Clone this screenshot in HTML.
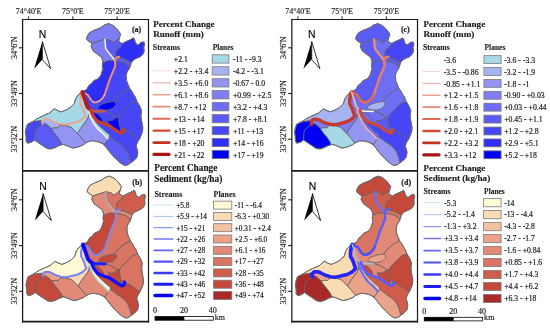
<!DOCTYPE html>
<html><head><meta charset="utf-8"><title>Percent change maps</title><style>
html,body{margin:0;padding:0;background:#fff;}
body{width:550px;height:328px;overflow:hidden;}
svg{display:block;}
text{font-family:"Liberation Serif","Times New Roman",serif;fill:#1a1a1a;}
.ax{font-size:8px;stroke:#1a1a1a;stroke-width:0.15px;}
.nn{font-family:"Liberation Sans",Arial,sans-serif;font-size:10.4px;fill:#000;stroke:#000;stroke-width:0.12px;}
.pl{font-size:8px;font-weight:bold;stroke:#1a1a1a;stroke-width:0.2px;}
.tt{font-size:8.8px;font-weight:bold;stroke:#1a1a1a;stroke-width:0.15px;}
.hd{font-size:6.9px;font-weight:bold;stroke:#1a1a1a;stroke-width:0.1px;}
.lv{font-size:7.3px;stroke:#1a1a1a;stroke-width:0.18px;}
.sb{font-size:7.2px;stroke:#1a1a1a;stroke-width:0.15px;}
</style></head><body>
<svg width="550" height="328" viewBox="0 0 550 328">
<rect width="550" height="328" fill="#fff"/>
<g stroke="#666" stroke-width="0.85" stroke-linejoin="round">
<g transform="translate(0,0)">
<polygon points="108.6,23.6 113.0,25.5 116.9,28.9 120.7,34.0 119.5,37.5 118.6,41.2 120.5,42.5 122.6,43.5 125.5,41.8 129.4,40.1 131.7,38.9 133.4,37.8 134.6,39.5 135.1,41.9 136.9,44.7 138.7,44.7 141.0,42.4 143.8,41.9 144.7,43.7 143.8,47.4 144.2,51.1 143.3,53.8 140.6,56.6 137.8,57.8 134.5,59.3 132.6,61.0 131.2,62.8 130.5,65.4 129.6,68.3 127.8,70.8 126.8,72.8 126.2,75.5 126.5,80.5 128.4,85.5 129.3,87.5 131.7,91.1 133.5,94.5 135.4,97.2 136.6,100.9 138.5,104.0 140.2,107.0 141.5,110.6 140.9,115.5 141.5,120.4 142.2,124.5 142.8,127.0 142.5,131.5 141.0,135.5 139.5,139.0 137.5,142.0 136.0,146.0 137.0,149.0 137.8,152.3 137.0,157.0 135.5,159.0 132.0,162.0 128.5,164.5 126.0,165.4 124.8,165.5 122.0,164.0 119.3,162.0 116.0,158.8 112.4,155.2 109.5,151.7 106.9,148.3 105.0,146.0 102.8,144.2 99.0,142.0 96.0,141.3 93.6,140.9 90.5,141.0 88.5,141.7 85.5,143.0 83.1,144.9 80.0,146.2 77.0,147.3 72.9,148.1 69.5,146.8 66.5,145.5 63.0,144.3 61.8,144.8 59.1,145.5 55.0,147.6 50.8,149.0 46.7,148.3 42.6,145.5 38.5,142.8 34.4,140.0 31.6,142.1 27.6,143.2 26.2,141.3 26.1,136.6 25.4,132.5 26.1,128.4 27.5,124.2 31.6,122.2 35.0,120.2 37.1,118.7 42.6,116.0 44.6,115.1 49.2,113.2 54.3,108.7 57.5,110.5 61.1,111.9 64.8,110.5 68.4,108.7 70.4,107.3 72.5,105.5 74.2,103.5 75.0,101.0 75.5,99.0 78.0,95.2 81.8,92.0 86.6,89.6 89.1,85.2 91.4,83.7 93.7,80.7 97.5,79.1 99.8,76.9 101.2,74.5 101.8,72.0 102.9,69.0 102.3,65.5 102.9,61.4 101.6,57.5 98.5,55.0 96.4,53.5 93.2,51.0 91.1,46.7 92.1,43.5 89.0,41.5 86.4,39.1 87.5,35.5 89.5,32.7 93.5,30.5 97.8,28.9 101.0,27.5 104.2,25.1" fill="#4646f6" stroke="none"/>
<polygon points="86.4,39.1 87.5,35.5 89.5,32.7 93.5,30.5 97.8,28.9 101.0,27.5 104.2,25.1 108.6,23.6 113.0,25.5 116.9,28.9 120.7,34.0 119.5,37.5 118.8,38.2 116.7,40.3 114.5,41.8 112.4,43.0 111.3,40.9 108.0,39.8 104.9,39.3 98.5,41.4 92.1,43.5 89.0,41.5" fill="#7e7ef3"/>
<polygon points="92.1,43.5 98.5,41.4 104.9,39.3 105.3,44.0 105.5,47.8 107.0,50.5 108.0,51.7 110.9,55.3 113.9,59.0 114.6,60.5 112.0,60.8 109.2,60.6 106.0,61.5 103.9,62.7 102.9,61.4 101.6,57.5 98.5,55.0 96.4,53.5 93.2,51.0 91.1,46.7" fill="#7e7ef3"/>
<polygon points="104.9,39.3 108.0,39.8 111.3,40.9 112.4,43.0 114.5,41.8 116.7,40.3 118.8,38.2 119.5,37.5 118.6,41.2 120.5,42.5 122.6,43.5 120.4,47.4 117.0,49.6 115.9,51.9 115.9,55.8 115.3,59.0 114.6,60.5 113.9,59.0 110.9,55.3 108.0,51.7 107.0,50.5 105.5,47.8 105.3,44.0" fill="#5a5af5"/>
<polygon points="122.6,43.5 125.5,41.8 129.4,40.1 131.7,38.9 133.4,37.8 134.6,39.5 135.1,41.9 136.9,44.7 138.7,44.7 141.0,42.4 143.8,41.9 144.7,43.7 143.8,47.4 144.2,51.1 143.3,53.8 140.6,56.6 137.8,57.8 134.5,59.3 132.6,61.0 131.2,62.8 130.5,62.0 124.9,59.2 118.1,57.5 116.8,57.2 115.9,55.8 115.9,51.9 117.0,49.6 120.4,47.4" fill="#2e2ef7"/>
<polygon points="116.8,57.2 118.1,57.5 124.9,59.2 130.5,62.0 131.2,62.8 130.5,65.4 129.4,67.5 127.7,64.9 123.8,62.6 117.0,60.9 115.0,62.6 115.3,59.0" fill="#5a5af5"/>
<polygon points="103.9,62.7 106.0,61.5 109.2,60.6 112.0,60.8 114.6,60.5 115.0,62.6 115.3,66.3 113.9,69.2 112.8,72.0 111.5,75.0 110.1,78.4 108.7,82.5 107.4,86.6 106.0,90.5 104.6,94.8 102.4,98.4 99.8,100.8 96.5,102.3 93.7,102.3 91.5,100.5 90.7,99.3 88.5,96.0 87.6,94.7 84.6,93.2 82.3,92.0 81.8,92.0 86.6,89.6 89.1,85.2 91.4,83.7 93.7,80.7 97.5,79.1 99.8,76.9 101.2,74.5 101.8,72.0 102.9,69.0 102.3,65.5 102.9,61.4" fill="#2e2ef7"/>
<polygon points="115.0,62.6 117.0,60.9 123.8,62.6 127.7,64.9 129.4,67.5 129.6,68.3 127.8,70.8 126.8,72.8 126.2,75.5 126.5,80.5 128.4,85.5 129.3,87.5 129.3,88.7 124.4,91.1 119.5,94.8 115.9,98.4 113.4,102.1 108.0,104.0 105.0,108.0 104.3,111.5 99.4,111.3 94.5,111.3 90.9,110.0 89.0,108.5 87.2,106.4 86.0,103.0 84.8,99.1 83.5,95.5 82.3,92.0 84.6,93.2 87.6,94.7 88.5,96.0 90.7,99.3 91.5,100.5 93.7,102.3 96.5,102.3 99.8,100.8 102.4,98.4 104.6,94.8 106.0,90.5 107.4,86.6 108.7,82.5 110.1,78.4 111.5,75.0 112.8,72.0 113.9,69.2 115.3,66.3" fill="#4646f6"/>
<polygon points="129.3,88.7 131.7,91.1 133.5,94.5 135.4,97.2 136.6,100.9 135.4,102.1 131.7,103.3 129.3,105.7 124.4,110.6 120.7,114.3 118.9,117.3 116.8,117.6 114.7,116.0 109.3,112.8 105.1,111.5 104.3,111.5 105.0,108.0 108.0,104.0 113.4,102.1 115.9,98.4 119.5,94.8 124.4,91.1" fill="#4646f6"/>
<polygon points="135.4,102.1 136.6,100.9 138.5,104.0 140.2,107.0 141.5,110.6 140.9,115.5 141.5,120.4 142.2,124.5 142.8,127.0 142.5,131.5 141.0,135.5 139.5,139.0 138.7,139.3 132.2,134.4 125.7,130.4 123.8,129.6 120.0,127.7 118.9,121.3 118.3,120.4 118.9,117.3 120.7,114.3 124.4,110.6 129.3,105.7 131.7,103.3" fill="#4646f6"/>
<polygon points="90.9,110.0 94.5,111.3 99.4,111.3 104.3,111.5 105.1,111.5 109.3,112.8 114.7,116.0 116.8,117.6 118.9,117.3 118.3,120.4 118.9,121.3 120.0,127.7 123.8,129.6 123.3,132.3 121.5,133.4 117.9,131.5 113.3,128.5 108.7,125.3 102.9,123.5 97.6,121.3 94.6,117.8 93.5,116.5 92.1,113.7" fill="#4646f6"/>
<polygon points="97.6,108.5 99.7,105.3 102.5,104.0 105.1,103.2 109.3,102.1 112.0,101.8 114.7,101.6 115.7,103.0 115.7,105.3 114.0,107.0 112.5,108.5 110.0,109.4 107.2,110.1 104.5,110.0 101.9,109.6 98.7,109.1" fill="#0000f8"/>
<polygon points="91.5,111.0 93.3,112.3 97.6,113.9 100.8,117.1 102.9,120.3 102.0,122.5 97.6,121.3 94.6,117.8 93.5,116.5 92.1,113.7" fill="#0000f8"/>
<polygon points="107.2,120.3 110.0,120.5 112.5,120.3 114.5,119.0 116.8,117.6 118.9,117.3 118.3,120.4 118.9,121.3 120.0,127.7 121.5,133.4 117.9,131.5 113.3,128.5 110.0,126.0 108.0,122.5" fill="#0000f8"/>
<polygon points="94.6,117.8 97.6,121.3 102.9,123.5 108.7,125.3 113.3,128.5 117.9,131.5 121.5,133.4 123.3,132.3 123.8,129.6 125.7,130.4 132.2,134.4 138.7,139.3 139.5,139.0 137.5,142.0 136.0,146.0 137.0,149.0 137.8,152.3 137.0,157.0 135.5,159.0 132.0,162.0 130.6,162.5 129.8,159.0 128.4,155.0 127.0,151.5 124.3,147.9 120.6,144.7 116.9,142.4 113.3,139.6 109.6,136.9 109.5,134.8 105.5,131.5 101.5,128.0 97.5,124.2 94.8,120.5" fill="#4646f6"/>
<polygon points="104.2,144.2 106.0,141.9 107.8,138.7 109.6,136.9 113.3,139.6 116.9,142.4 120.6,144.7 124.3,147.9 127.0,151.5 128.4,155.0 129.8,159.0 130.6,162.5 128.5,164.5 126.0,165.4 124.8,165.5 122.0,164.0 119.3,162.0 116.0,158.8 112.4,155.2 109.5,151.7 106.9,148.3 105.0,146.0" fill="#5a5af5"/>
<polygon points="88.4,109.5 90.9,110.0 92.1,113.7 93.5,116.5 94.6,117.8 94.8,120.5 97.5,124.2 101.5,128.0 105.5,131.5 109.5,134.8 109.6,136.9 107.8,138.7 103.1,133.8 97.8,129.0 93.5,123.1 90.3,116.7 88.7,112.0" fill="#a6d8e6"/>
<polygon points="77.4,133.4 79.7,129.4 83.1,124.7 86.6,120.1 88.4,116.6 88.9,112.0 88.7,112.0 90.3,116.7 93.5,123.1 97.8,129.0 103.1,133.8 107.8,138.7 106.0,141.9 104.2,144.2 102.8,143.5 99.0,142.0 96.0,141.3 93.6,140.9 90.5,141.0 88.5,141.7 85.5,143.0 82.0,138.6" fill="#9494f2"/>
<polygon points="31.6,122.2 35.0,120.2 37.1,118.7 42.6,116.0 44.6,115.1 49.2,113.2 54.3,108.7 57.5,110.5 61.1,111.9 64.8,110.5 68.4,108.7 70.4,107.3 72.5,105.5 74.2,103.5 75.0,101.0 75.5,99.0 78.0,95.2 81.8,92.0 82.3,92.0 81.7,93.0 80.5,99.1 80.5,104.0 82.0,106.5 83.5,110.0 84.8,114.0 85.6,115.9 82.0,119.5 77.1,122.0 69.8,123.8 64.8,124.7 60.2,124.2 55.6,122.8 52.9,121.5 49.2,119.6 46.5,119.2 43.3,119.6 41.9,121.5 41.2,120.8 37.1,121.2" fill="#a6d8e6"/>
<polygon points="60.2,124.2 64.8,124.7 69.8,123.8 77.1,122.0 82.0,119.5 85.6,115.9 84.8,114.0 83.5,110.0 82.0,106.5 80.5,104.0 80.5,99.1 81.7,93.0 82.3,92.0 83.5,95.5 84.8,99.1 86.0,103.0 87.2,106.4 88.4,109.5 88.7,112.0 88.9,112.0 88.4,116.6 86.6,120.1 83.1,124.7 79.7,129.4 77.4,133.4 73.9,129.9 71.6,127.6 66.9,125.9 63.0,125.5 60.0,125.5" fill="#a6d8e6"/>
<polygon points="42.6,124.2 41.9,121.5 44.0,119.4 46.5,119.2 49.2,119.6 52.9,121.5 55.6,122.8 60.2,124.2 60.0,125.5 57.5,128.0 55.0,127.8 51.0,128.5 49.5,127.0 48.0,125.5 44.6,123.3" fill="#a6b4f2"/>
<polygon points="51.0,128.5 55.0,127.8 57.5,128.0 60.0,125.5 63.0,125.5 66.9,125.9 71.6,127.6 73.9,129.9 77.4,133.4 82.0,138.6 85.5,143.0 83.1,144.9 80.0,146.2 77.0,147.3 72.9,148.1 69.5,146.8 66.5,145.5 63.0,144.3 61.8,144.8 60.5,141.4 57.7,137.3 53.6,132.5" fill="#9494f2"/>
<polygon points="42.6,124.2 44.6,123.3 48.0,125.5 49.5,127.0 51.0,128.5 53.6,132.5 57.7,137.3 60.5,141.4 61.8,144.8 59.1,145.5 55.0,147.6 50.8,149.0 46.7,148.3 42.6,145.5 38.5,142.8 34.4,140.0 34.4,135.2 35.0,130.4 38.5,127.0" fill="#5a5af5"/>
<polygon points="27.5,124.2 31.6,122.2 37.1,121.2 41.2,120.8 42.6,124.2 38.5,127.0 35.0,130.4 34.4,135.2 34.4,140.0 31.6,142.1 27.6,143.2 26.2,141.3 26.1,136.6 25.4,132.5 26.1,128.4" fill="#4646f6"/>
<polygon points="108.6,23.6 113.0,25.5 116.9,28.9 120.7,34.0 119.5,37.5 118.6,41.2 120.5,42.5 122.6,43.5 125.5,41.8 129.4,40.1 131.7,38.9 133.4,37.8 134.6,39.5 135.1,41.9 136.9,44.7 138.7,44.7 141.0,42.4 143.8,41.9 144.7,43.7 143.8,47.4 144.2,51.1 143.3,53.8 140.6,56.6 137.8,57.8 134.5,59.3 132.6,61.0 131.2,62.8 130.5,65.4 129.6,68.3 127.8,70.8 126.8,72.8 126.2,75.5 126.5,80.5 128.4,85.5 129.3,87.5 131.7,91.1 133.5,94.5 135.4,97.2 136.6,100.9 138.5,104.0 140.2,107.0 141.5,110.6 140.9,115.5 141.5,120.4 142.2,124.5 142.8,127.0 142.5,131.5 141.0,135.5 139.5,139.0 137.5,142.0 136.0,146.0 137.0,149.0 137.8,152.3 137.0,157.0 135.5,159.0 132.0,162.0 128.5,164.5 126.0,165.4 124.8,165.5 122.0,164.0 119.3,162.0 116.0,158.8 112.4,155.2 109.5,151.7 106.9,148.3 105.0,146.0 102.8,144.2 99.0,142.0 96.0,141.3 93.6,140.9 90.5,141.0 88.5,141.7 85.5,143.0 83.1,144.9 80.0,146.2 77.0,147.3 72.9,148.1 69.5,146.8 66.5,145.5 63.0,144.3 61.8,144.8 59.1,145.5 55.0,147.6 50.8,149.0 46.7,148.3 42.6,145.5 38.5,142.8 34.4,140.0 31.6,142.1 27.6,143.2 26.2,141.3 26.1,136.6 25.4,132.5 26.1,128.4 27.5,124.2 31.6,122.2 35.0,120.2 37.1,118.7 42.6,116.0 44.6,115.1 49.2,113.2 54.3,108.7 57.5,110.5 61.1,111.9 64.8,110.5 68.4,108.7 70.4,107.3 72.5,105.5 74.2,103.5 75.0,101.0 75.5,99.0 78.0,95.2 81.8,92.0 86.6,89.6 89.1,85.2 91.4,83.7 93.7,80.7 97.5,79.1 99.8,76.9 101.2,74.5 101.8,72.0 102.9,69.0 102.3,65.5 102.9,61.4 101.6,57.5 98.5,55.0 96.4,53.5 93.2,51.0 91.1,46.7 92.1,43.5 89.0,41.5 86.4,39.1 87.5,35.5 89.5,32.7 93.5,30.5 97.8,28.9 101.0,27.5 104.2,25.1" fill="none" stroke="#6c6c6c" stroke-width="0.85"/>
<polyline points="104.9,39.3 105.3,44.0 105.5,47.8 107.0,50.5 108.0,51.7 110.9,55.3 113.9,59.0 114.6,60.5" fill="none" stroke="#fff2f2" stroke-width="1.5" stroke-linecap="round" stroke-linejoin="round"/>
<polyline points="119.3,56.8 116.8,57.5 115.3,59.0 115.0,62.6 115.3,66.3 113.9,69.2 112.8,72.0 111.5,75.0 110.1,78.4 108.7,82.5 107.4,86.6 106.0,90.5 104.6,94.8" fill="none" stroke="#f08c6e" stroke-width="2" stroke-linecap="round" stroke-linejoin="round"/>
<polyline points="104.6,94.8 102.4,98.4 99.8,100.8 96.5,102.3 93.7,102.3 91.5,100.5 90.7,99.3 88.5,96.0 87.6,94.7 84.6,93.2 82.3,92.0" fill="none" stroke="#f2a08a" stroke-width="1.7" stroke-linecap="round" stroke-linejoin="round"/>
<polyline points="82.3,92.0 81.7,93.0 80.5,99.1 80.5,104.0 82.0,106.5 83.5,110.0 84.8,114.0 85.6,115.9 82.0,119.5 77.1,122.0 69.8,123.8 64.8,124.7 60.2,124.2 55.6,122.8 52.9,121.5 49.2,119.6 46.5,119.2 44.0,119.4 41.9,121.5 42.6,124.2" fill="none" stroke="#f2a48e" stroke-width="1.7" stroke-linecap="round" stroke-linejoin="round"/>
<polyline points="88.4,109.5 88.7,112.0 90.3,116.7 93.5,123.1 97.8,129.0 103.1,133.8 107.8,138.7" fill="none" stroke="#fff6f6" stroke-width="1.5" stroke-linecap="round" stroke-linejoin="round"/>
<polyline points="82.3,92.0 83.5,95.5 84.8,99.1 86.0,103.0 87.2,106.4 89.0,108.5 90.9,110.0" fill="none" stroke="#b21c1c" stroke-width="3.9" stroke-linecap="round" stroke-linejoin="round"/>
<polyline points="90.9,110.0 94.5,111.3 99.4,111.3 104.3,111.5" fill="none" stroke="#d05a44" stroke-width="2.3" stroke-linecap="round" stroke-linejoin="round"/>
<polyline points="90.9,110.0 92.1,113.7 93.5,116.5 94.6,117.8 97.6,121.3 102.9,123.5 108.7,125.3 113.3,128.5 117.9,131.5 121.5,133.4 123.3,132.3 123.8,129.6" fill="none" stroke="#c93c2a" stroke-width="3.2" stroke-linecap="round" stroke-linejoin="round"/>
</g>
<g transform="translate(0.7,152.5)">
<polygon points="108.6,23.6 113.0,25.5 116.9,28.9 120.7,34.0 119.5,37.5 118.6,41.2 120.5,42.5 122.6,43.5 125.5,41.8 129.4,40.1 131.7,38.9 133.4,37.8 134.6,39.5 135.1,41.9 136.9,44.7 138.7,44.7 141.0,42.4 143.8,41.9 144.7,43.7 143.8,47.4 144.2,51.1 143.3,53.8 140.6,56.6 137.8,57.8 134.5,59.3 132.6,61.0 131.2,62.8 130.5,65.4 129.6,68.3 127.8,70.8 126.8,72.8 126.2,75.5 126.5,80.5 128.4,85.5 129.3,87.5 131.7,91.1 133.5,94.5 135.4,97.2 136.6,100.9 138.5,104.0 140.2,107.0 141.5,110.6 140.9,115.5 141.5,120.4 142.2,124.5 142.8,127.0 142.5,131.5 141.0,135.5 139.5,139.0 137.5,142.0 136.0,146.0 137.0,149.0 137.8,152.3 137.0,157.0 135.5,159.0 132.0,162.0 128.5,164.5 126.0,165.4 124.8,165.5 122.0,164.0 119.3,162.0 116.0,158.8 112.4,155.2 109.5,151.7 106.9,148.3 105.0,146.0 102.8,144.2 99.0,142.0 96.0,141.3 93.6,140.9 90.5,141.0 88.5,141.7 85.5,143.0 83.1,144.9 80.0,146.2 77.0,147.3 72.9,148.1 69.5,146.8 66.5,145.5 63.0,144.3 61.8,144.8 59.1,145.5 55.0,147.6 50.8,149.0 46.7,148.3 42.6,145.5 38.5,142.8 34.4,140.0 31.6,142.1 27.6,143.2 26.2,141.3 26.1,136.6 25.4,132.5 26.1,128.4 27.5,124.2 31.6,122.2 35.0,120.2 37.1,118.7 42.6,116.0 44.6,115.1 49.2,113.2 54.3,108.7 57.5,110.5 61.1,111.9 64.8,110.5 68.4,108.7 70.4,107.3 72.5,105.5 74.2,103.5 75.0,101.0 75.5,99.0 78.0,95.2 81.8,92.0 86.6,89.6 89.1,85.2 91.4,83.7 93.7,80.7 97.5,79.1 99.8,76.9 101.2,74.5 101.8,72.0 102.9,69.0 102.3,65.5 102.9,61.4 101.6,57.5 98.5,55.0 96.4,53.5 93.2,51.0 91.1,46.7 92.1,43.5 89.0,41.5 86.4,39.1 87.5,35.5 89.5,32.7 93.5,30.5 97.8,28.9 101.0,27.5 104.2,25.1" fill="#d97462" stroke="none"/>
<polygon points="86.4,39.1 87.5,35.5 89.5,32.7 93.5,30.5 97.8,28.9 101.0,27.5 104.2,25.1 108.6,23.6 113.0,25.5 116.9,28.9 120.7,34.0 119.5,37.5 118.8,38.2 116.7,40.3 114.5,41.8 112.4,43.0 111.3,40.9 108.0,39.8 104.9,39.3 98.5,41.4 92.1,43.5 89.0,41.5" fill="#f9dbb4"/>
<polygon points="92.1,43.5 98.5,41.4 104.9,39.3 105.3,44.0 105.5,47.8 107.0,50.5 108.0,51.7 110.9,55.3 113.9,59.0 114.6,60.5 112.0,60.8 109.2,60.6 106.0,61.5 103.9,62.7 102.9,61.4 101.6,57.5 98.5,55.0 96.4,53.5 93.2,51.0 91.1,46.7" fill="#e28a77"/>
<polygon points="104.9,39.3 108.0,39.8 111.3,40.9 112.4,43.0 114.5,41.8 116.7,40.3 118.8,38.2 119.5,37.5 118.6,41.2 120.5,42.5 122.6,43.5 120.4,47.4 117.0,49.6 115.9,51.9 115.9,55.8 115.3,59.0 114.6,60.5 113.9,59.0 110.9,55.3 108.0,51.7 107.0,50.5 105.5,47.8 105.3,44.0" fill="#d97462"/>
<polygon points="122.6,43.5 125.5,41.8 129.4,40.1 131.7,38.9 133.4,37.8 134.6,39.5 135.1,41.9 136.9,44.7 138.7,44.7 141.0,42.4 143.8,41.9 144.7,43.7 143.8,47.4 144.2,51.1 143.3,53.8 140.6,56.6 137.8,57.8 134.5,59.3 132.6,61.0 131.2,62.8 130.5,62.0 124.9,59.2 118.1,57.5 116.8,57.2 115.9,55.8 115.9,51.9 117.0,49.6 120.4,47.4" fill="#d05d4c"/>
<polygon points="116.8,57.2 118.1,57.5 124.9,59.2 130.5,62.0 131.2,62.8 130.5,65.4 129.4,67.5 127.7,64.9 123.8,62.6 117.0,60.9 115.0,62.6 115.3,59.0" fill="#e28a77"/>
<polygon points="103.9,62.7 106.0,61.5 109.2,60.6 112.0,60.8 114.6,60.5 115.0,62.6 115.3,66.3 113.9,69.2 112.8,72.0 111.5,75.0 110.1,78.4 108.7,82.5 107.4,86.6 106.0,90.5 104.6,94.8 102.4,98.4 99.8,100.8 96.5,102.3 93.7,102.3 91.5,100.5 90.7,99.3 88.5,96.0 87.6,94.7 84.6,93.2 82.3,92.0 81.8,92.0 86.6,89.6 89.1,85.2 91.4,83.7 93.7,80.7 97.5,79.1 99.8,76.9 101.2,74.5 101.8,72.0 102.9,69.0 102.3,65.5 102.9,61.4" fill="#c4493a"/>
<polygon points="115.0,62.6 117.0,60.9 123.8,62.6 127.7,64.9 129.4,67.5 129.6,68.3 127.8,70.8 126.8,72.8 126.2,75.5 126.5,80.5 128.4,85.5 129.3,87.5 129.3,88.7 124.4,91.1 119.5,94.8 115.9,98.4 113.4,102.1 108.0,104.0 105.0,108.0 104.3,111.5 99.4,111.3 94.5,111.3 90.9,110.0 89.0,108.5 87.2,106.4 86.0,103.0 84.8,99.1 83.5,95.5 82.3,92.0 84.6,93.2 87.6,94.7 88.5,96.0 90.7,99.3 91.5,100.5 93.7,102.3 96.5,102.3 99.8,100.8 102.4,98.4 104.6,94.8 106.0,90.5 107.4,86.6 108.7,82.5 110.1,78.4 111.5,75.0 112.8,72.0 113.9,69.2 115.3,66.3" fill="#d97462"/>
<polygon points="129.3,88.7 131.7,91.1 133.5,94.5 135.4,97.2 136.6,100.9 135.4,102.1 131.7,103.3 129.3,105.7 124.4,110.6 120.7,114.3 118.9,117.3 116.8,117.6 114.7,116.0 109.3,112.8 105.1,111.5 104.3,111.5 105.0,108.0 108.0,104.0 113.4,102.1 115.9,98.4 119.5,94.8 124.4,91.1" fill="#d97462"/>
<polygon points="135.4,102.1 136.6,100.9 138.5,104.0 140.2,107.0 141.5,110.6 140.9,115.5 141.5,120.4 142.2,124.5 142.8,127.0 142.5,131.5 141.0,135.5 139.5,139.0 138.7,139.3 132.2,134.4 125.7,130.4 123.8,129.6 120.0,127.7 118.9,121.3 118.3,120.4 118.9,117.3 120.7,114.3 124.4,110.6 129.3,105.7 131.7,103.3" fill="#d97462"/>
<polygon points="90.9,110.0 94.5,111.3 99.4,111.3 104.3,111.5 105.1,111.5 109.3,112.8 114.7,116.0 116.8,117.6 118.9,117.3 118.3,120.4 118.9,121.3 120.0,127.7 123.8,129.6 123.3,132.3 121.5,133.4 117.9,131.5 113.3,128.5 108.7,125.3 102.9,123.5 97.6,121.3 94.6,117.8 93.5,116.5 92.1,113.7" fill="#d97462"/>
<polygon points="97.6,108.5 99.7,105.3 102.5,104.0 105.1,103.2 109.3,102.1 112.0,101.8 114.7,101.6 115.7,103.0 115.7,105.3 114.0,107.0 112.5,108.5 110.0,109.4 107.2,110.1 104.5,110.0 101.9,109.6 98.7,109.1" fill="#c4493a"/>
<polygon points="91.5,111.0 93.3,112.3 97.6,113.9 100.8,117.1 102.9,120.3 102.0,122.5 97.6,121.3 94.6,117.8 93.5,116.5 92.1,113.7" fill="#c4493a"/>
<polygon points="107.2,120.3 110.0,120.5 112.5,120.3 114.5,119.0 116.8,117.6 118.9,117.3 118.3,120.4 118.9,121.3 120.0,127.7 121.5,133.4 117.9,131.5 113.3,128.5 110.0,126.0 108.0,122.5" fill="#c4493a"/>
<polygon points="94.6,117.8 97.6,121.3 102.9,123.5 108.7,125.3 113.3,128.5 117.9,131.5 121.5,133.4 123.3,132.3 123.8,129.6 125.7,130.4 132.2,134.4 138.7,139.3 139.5,139.0 137.5,142.0 136.0,146.0 137.0,149.0 137.8,152.3 137.0,157.0 135.5,159.0 132.0,162.0 130.6,162.5 129.8,159.0 128.4,155.0 127.0,151.5 124.3,147.9 120.6,144.7 116.9,142.4 113.3,139.6 109.6,136.9 109.5,134.8 105.5,131.5 101.5,128.0 97.5,124.2 94.8,120.5" fill="#c4493a"/>
<polygon points="104.2,144.2 106.0,141.9 107.8,138.7 109.6,136.9 113.3,139.6 116.9,142.4 120.6,144.7 124.3,147.9 127.0,151.5 128.4,155.0 129.8,159.0 130.6,162.5 128.5,164.5 126.0,165.4 124.8,165.5 122.0,164.0 119.3,162.0 116.0,158.8 112.4,155.2 109.5,151.7 106.9,148.3 105.0,146.0" fill="#e28a77"/>
<polygon points="88.4,109.5 90.9,110.0 92.1,113.7 93.5,116.5 94.6,117.8 94.8,120.5 97.5,124.2 101.5,128.0 105.5,131.5 109.5,134.8 109.6,136.9 107.8,138.7 103.1,133.8 97.8,129.0 93.5,123.1 90.3,116.7 88.7,112.0" fill="#fffad6"/>
<polygon points="77.4,133.4 79.7,129.4 83.1,124.7 86.6,120.1 88.4,116.6 88.9,112.0 88.7,112.0 90.3,116.7 93.5,123.1 97.8,129.0 103.1,133.8 107.8,138.7 106.0,141.9 104.2,144.2 102.8,143.5 99.0,142.0 96.0,141.3 93.6,140.9 90.5,141.0 88.5,141.7 85.5,143.0 82.0,138.6" fill="#e28a77"/>
<polygon points="31.6,122.2 35.0,120.2 37.1,118.7 42.6,116.0 44.6,115.1 49.2,113.2 54.3,108.7 57.5,110.5 61.1,111.9 64.8,110.5 68.4,108.7 70.4,107.3 72.5,105.5 74.2,103.5 75.0,101.0 75.5,99.0 78.0,95.2 81.8,92.0 82.3,92.0 81.7,93.0 80.5,99.1 80.5,104.0 82.0,106.5 83.5,110.0 84.8,114.0 85.6,115.9 82.0,119.5 77.1,122.0 69.8,123.8 64.8,124.7 60.2,124.2 55.6,122.8 52.9,121.5 49.2,119.6 46.5,119.2 43.3,119.6 41.9,121.5 41.2,120.8 37.1,121.2" fill="#fffad6"/>
<polygon points="60.2,124.2 64.8,124.7 69.8,123.8 77.1,122.0 82.0,119.5 85.6,115.9 84.8,114.0 83.5,110.0 82.0,106.5 80.5,104.0 80.5,99.1 81.7,93.0 82.3,92.0 83.5,95.5 84.8,99.1 86.0,103.0 87.2,106.4 88.4,109.5 88.7,112.0 88.9,112.0 88.4,116.6 86.6,120.1 83.1,124.7 79.7,129.4 77.4,133.4 73.9,129.9 71.6,127.6 66.9,125.9 63.0,125.5 60.0,125.5" fill="#f9dbb4"/>
<polygon points="42.6,124.2 41.9,121.5 44.0,119.4 46.5,119.2 49.2,119.6 52.9,121.5 55.6,122.8 60.2,124.2 60.0,125.5 57.5,128.0 55.0,127.8 51.0,128.5 49.5,127.0 48.0,125.5 44.6,123.3" fill="#eaa28a"/>
<polygon points="51.0,128.5 55.0,127.8 57.5,128.0 60.0,125.5 63.0,125.5 66.9,125.9 71.6,127.6 73.9,129.9 77.4,133.4 82.0,138.6 85.5,143.0 83.1,144.9 80.0,146.2 77.0,147.3 72.9,148.1 69.5,146.8 66.5,145.5 63.0,144.3 61.8,144.8 60.5,141.4 57.7,137.3 53.6,132.5" fill="#e28a77"/>
<polygon points="42.6,124.2 44.6,123.3 48.0,125.5 49.5,127.0 51.0,128.5 53.6,132.5 57.7,137.3 60.5,141.4 61.8,144.8 59.1,145.5 55.0,147.6 50.8,149.0 46.7,148.3 42.6,145.5 38.5,142.8 34.4,140.0 34.4,135.2 35.0,130.4 38.5,127.0" fill="#c4493a"/>
<polygon points="27.5,124.2 31.6,122.2 37.1,121.2 41.2,120.8 42.6,124.2 38.5,127.0 35.0,130.4 34.4,135.2 34.4,140.0 31.6,142.1 27.6,143.2 26.2,141.3 26.1,136.6 25.4,132.5 26.1,128.4" fill="#c4493a"/>
<polygon points="108.6,23.6 113.0,25.5 116.9,28.9 120.7,34.0 119.5,37.5 118.6,41.2 120.5,42.5 122.6,43.5 125.5,41.8 129.4,40.1 131.7,38.9 133.4,37.8 134.6,39.5 135.1,41.9 136.9,44.7 138.7,44.7 141.0,42.4 143.8,41.9 144.7,43.7 143.8,47.4 144.2,51.1 143.3,53.8 140.6,56.6 137.8,57.8 134.5,59.3 132.6,61.0 131.2,62.8 130.5,65.4 129.6,68.3 127.8,70.8 126.8,72.8 126.2,75.5 126.5,80.5 128.4,85.5 129.3,87.5 131.7,91.1 133.5,94.5 135.4,97.2 136.6,100.9 138.5,104.0 140.2,107.0 141.5,110.6 140.9,115.5 141.5,120.4 142.2,124.5 142.8,127.0 142.5,131.5 141.0,135.5 139.5,139.0 137.5,142.0 136.0,146.0 137.0,149.0 137.8,152.3 137.0,157.0 135.5,159.0 132.0,162.0 128.5,164.5 126.0,165.4 124.8,165.5 122.0,164.0 119.3,162.0 116.0,158.8 112.4,155.2 109.5,151.7 106.9,148.3 105.0,146.0 102.8,144.2 99.0,142.0 96.0,141.3 93.6,140.9 90.5,141.0 88.5,141.7 85.5,143.0 83.1,144.9 80.0,146.2 77.0,147.3 72.9,148.1 69.5,146.8 66.5,145.5 63.0,144.3 61.8,144.8 59.1,145.5 55.0,147.6 50.8,149.0 46.7,148.3 42.6,145.5 38.5,142.8 34.4,140.0 31.6,142.1 27.6,143.2 26.2,141.3 26.1,136.6 25.4,132.5 26.1,128.4 27.5,124.2 31.6,122.2 35.0,120.2 37.1,118.7 42.6,116.0 44.6,115.1 49.2,113.2 54.3,108.7 57.5,110.5 61.1,111.9 64.8,110.5 68.4,108.7 70.4,107.3 72.5,105.5 74.2,103.5 75.0,101.0 75.5,99.0 78.0,95.2 81.8,92.0 86.6,89.6 89.1,85.2 91.4,83.7 93.7,80.7 97.5,79.1 99.8,76.9 101.2,74.5 101.8,72.0 102.9,69.0 102.3,65.5 102.9,61.4 101.6,57.5 98.5,55.0 96.4,53.5 93.2,51.0 91.1,46.7 92.1,43.5 89.0,41.5 86.4,39.1 87.5,35.5 89.5,32.7 93.5,30.5 97.8,28.9 101.0,27.5 104.2,25.1" fill="none" stroke="#6c6c6c" stroke-width="0.85"/>
<polyline points="104.9,39.3 105.3,44.0 105.5,47.8 107.0,50.5 108.0,51.7 110.9,55.3 113.9,59.0 114.6,60.5" fill="none" stroke="#a8c4cc" stroke-width="1.3" stroke-linecap="round" stroke-linejoin="round"/>
<polyline points="119.3,56.8 116.8,57.5 115.3,59.0 115.0,62.6 115.3,66.3 113.9,69.2 112.8,72.0 111.5,75.0 110.1,78.4 108.7,82.5 107.4,86.6 106.0,90.5 104.6,94.8" fill="none" stroke="#8088f2" stroke-width="1.9" stroke-linecap="round" stroke-linejoin="round"/>
<polyline points="104.6,94.8 102.4,98.4 99.8,100.8 96.5,102.3 93.7,102.3 91.5,100.5 90.7,99.3 88.5,96.0 87.6,94.7 84.6,93.2 82.3,92.0" fill="none" stroke="#7a82f4" stroke-width="2" stroke-linecap="round" stroke-linejoin="round"/>
<polyline points="82.3,92.0 81.7,93.0 80.5,99.1 80.5,104.0 82.0,106.5 83.5,110.0 84.8,114.0 85.6,115.9 82.0,119.5 77.1,122.0 69.8,123.8 64.8,124.7 60.2,124.2 55.6,122.8 52.9,121.5 49.2,119.6 46.5,119.2 44.0,119.4 41.9,121.5 42.6,124.2" fill="none" stroke="#7c84f4" stroke-width="2" stroke-linecap="round" stroke-linejoin="round"/>
<polyline points="88.4,109.5 88.7,112.0 90.3,116.7 93.5,123.1 97.8,129.0 103.1,133.8 107.8,138.7" fill="none" stroke="#bcdce8" stroke-width="1.5" stroke-linecap="round" stroke-linejoin="round"/>
<polyline points="82.3,92.0 83.5,95.5 84.8,99.1 86.0,103.0 87.2,106.4 89.0,108.5 90.9,110.0" fill="none" stroke="#0808ff" stroke-width="3.8" stroke-linecap="round" stroke-linejoin="round"/>
<polyline points="90.9,110.0 94.5,111.3 99.4,111.3 104.3,111.5" fill="none" stroke="#2020ff" stroke-width="3" stroke-linecap="round" stroke-linejoin="round"/>
<polyline points="90.9,110.0 92.1,113.7 93.5,116.5 94.6,117.8 97.6,121.3 102.9,123.5 108.7,125.3 113.3,128.5 117.9,131.5 121.5,133.4 123.3,132.3 123.8,129.6" fill="none" stroke="#1010ff" stroke-width="3.4" stroke-linecap="round" stroke-linejoin="round"/>
</g>
<g transform="translate(269.2,0)">
<polygon points="108.6,23.6 113.0,25.5 116.9,28.9 120.7,34.0 119.5,37.5 118.6,41.2 120.5,42.5 122.6,43.5 125.5,41.8 129.4,40.1 131.7,38.9 133.4,37.8 134.6,39.5 135.1,41.9 136.9,44.7 138.7,44.7 141.0,42.4 143.8,41.9 144.7,43.7 143.8,47.4 144.2,51.1 143.3,53.8 140.6,56.6 137.8,57.8 134.5,59.3 132.6,61.0 131.2,62.8 130.5,65.4 129.6,68.3 127.8,70.8 126.8,72.8 126.2,75.5 126.5,80.5 128.4,85.5 129.3,87.5 131.7,91.1 133.5,94.5 135.4,97.2 136.6,100.9 138.5,104.0 140.2,107.0 141.5,110.6 140.9,115.5 141.5,120.4 142.2,124.5 142.8,127.0 142.5,131.5 141.0,135.5 139.5,139.0 137.5,142.0 136.0,146.0 137.0,149.0 137.8,152.3 137.0,157.0 135.5,159.0 132.0,162.0 128.5,164.5 126.0,165.4 124.8,165.5 122.0,164.0 119.3,162.0 116.0,158.8 112.4,155.2 109.5,151.7 106.9,148.3 105.0,146.0 102.8,144.2 99.0,142.0 96.0,141.3 93.6,140.9 90.5,141.0 88.5,141.7 85.5,143.0 83.1,144.9 80.0,146.2 77.0,147.3 72.9,148.1 69.5,146.8 66.5,145.5 63.0,144.3 61.8,144.8 59.1,145.5 55.0,147.6 50.8,149.0 46.7,148.3 42.6,145.5 38.5,142.8 34.4,140.0 31.6,142.1 27.6,143.2 26.2,141.3 26.1,136.6 25.4,132.5 26.1,128.4 27.5,124.2 31.6,122.2 35.0,120.2 37.1,118.7 42.6,116.0 44.6,115.1 49.2,113.2 54.3,108.7 57.5,110.5 61.1,111.9 64.8,110.5 68.4,108.7 70.4,107.3 72.5,105.5 74.2,103.5 75.0,101.0 75.5,99.0 78.0,95.2 81.8,92.0 86.6,89.6 89.1,85.2 91.4,83.7 93.7,80.7 97.5,79.1 99.8,76.9 101.2,74.5 101.8,72.0 102.9,69.0 102.3,65.5 102.9,61.4 101.6,57.5 98.5,55.0 96.4,53.5 93.2,51.0 91.1,46.7 92.1,43.5 89.0,41.5 86.4,39.1 87.5,35.5 89.5,32.7 93.5,30.5 97.8,28.9 101.0,27.5 104.2,25.1" fill="#6e6ef4" stroke="none"/>
<polygon points="86.4,39.1 87.5,35.5 89.5,32.7 93.5,30.5 97.8,28.9 101.0,27.5 104.2,25.1 108.6,23.6 113.0,25.5 116.9,28.9 120.7,34.0 119.5,37.5 118.8,38.2 116.7,40.3 114.5,41.8 112.4,43.0 111.3,40.9 108.0,39.8 104.9,39.3 98.5,41.4 92.1,43.5 89.0,41.5" fill="#5a5af5"/>
<polygon points="92.1,43.5 98.5,41.4 104.9,39.3 105.3,44.0 105.5,47.8 107.0,50.5 108.0,51.7 110.9,55.3 113.9,59.0 114.6,60.5 112.0,60.8 109.2,60.6 106.0,61.5 103.9,62.7 102.9,61.4 101.6,57.5 98.5,55.0 96.4,53.5 93.2,51.0 91.1,46.7" fill="#5a5af5"/>
<polygon points="104.9,39.3 108.0,39.8 111.3,40.9 112.4,43.0 114.5,41.8 116.7,40.3 118.8,38.2 119.5,37.5 118.6,41.2 120.5,42.5 122.6,43.5 120.4,47.4 117.0,49.6 115.9,51.9 115.9,55.8 115.3,59.0 114.6,60.5 113.9,59.0 110.9,55.3 108.0,51.7 107.0,50.5 105.5,47.8 105.3,44.0" fill="#6e6ef4"/>
<polygon points="122.6,43.5 125.5,41.8 129.4,40.1 131.7,38.9 133.4,37.8 134.6,39.5 135.1,41.9 136.9,44.7 138.7,44.7 141.0,42.4 143.8,41.9 144.7,43.7 143.8,47.4 144.2,51.1 143.3,53.8 140.6,56.6 137.8,57.8 134.5,59.3 132.6,61.0 131.2,62.8 130.5,62.0 124.9,59.2 118.1,57.5 116.8,57.2 115.9,55.8 115.9,51.9 117.0,49.6 120.4,47.4" fill="#4646f6"/>
<polygon points="116.8,57.2 118.1,57.5 124.9,59.2 130.5,62.0 131.2,62.8 130.5,65.4 129.4,67.5 127.7,64.9 123.8,62.6 117.0,60.9 115.0,62.6 115.3,59.0" fill="#5a5af5"/>
<polygon points="103.9,62.7 106.0,61.5 109.2,60.6 112.0,60.8 114.6,60.5 115.0,62.6 115.3,66.3 113.9,69.2 112.8,72.0 111.5,75.0 110.1,78.4 108.7,82.5 107.4,86.6 106.0,90.5 104.6,94.8 102.4,98.4 99.8,100.8 96.5,102.3 93.7,102.3 91.5,100.5 90.7,99.3 88.5,96.0 87.6,94.7 84.6,93.2 82.3,92.0 81.8,92.0 86.6,89.6 89.1,85.2 91.4,83.7 93.7,80.7 97.5,79.1 99.8,76.9 101.2,74.5 101.8,72.0 102.9,69.0 102.3,65.5 102.9,61.4" fill="#5a5af5"/>
<polygon points="115.0,62.6 117.0,60.9 123.8,62.6 127.7,64.9 129.4,67.5 129.6,68.3 127.8,70.8 126.8,72.8 126.2,75.5 126.5,80.5 128.4,85.5 129.3,87.5 129.3,88.7 124.4,91.1 119.5,94.8 115.9,98.4 113.4,102.1 108.0,104.0 105.0,108.0 104.3,111.5 99.4,111.3 94.5,111.3 90.9,110.0 89.0,108.5 87.2,106.4 86.0,103.0 84.8,99.1 83.5,95.5 82.3,92.0 84.6,93.2 87.6,94.7 88.5,96.0 90.7,99.3 91.5,100.5 93.7,102.3 96.5,102.3 99.8,100.8 102.4,98.4 104.6,94.8 106.0,90.5 107.4,86.6 108.7,82.5 110.1,78.4 111.5,75.0 112.8,72.0 113.9,69.2 115.3,66.3" fill="#6e6ef4"/>
<polygon points="129.3,88.7 131.7,91.1 133.5,94.5 135.4,97.2 136.6,100.9 135.4,102.1 131.7,103.3 129.3,105.7 124.4,110.6 120.7,114.3 118.9,117.3 116.8,117.6 114.7,116.0 109.3,112.8 105.1,111.5 104.3,111.5 105.0,108.0 108.0,104.0 113.4,102.1 115.9,98.4 119.5,94.8 124.4,91.1" fill="#6e6ef4"/>
<polygon points="135.4,102.1 136.6,100.9 138.5,104.0 140.2,107.0 141.5,110.6 140.9,115.5 141.5,120.4 142.2,124.5 142.8,127.0 142.5,131.5 141.0,135.5 139.5,139.0 138.7,139.3 132.2,134.4 125.7,130.4 123.8,129.6 120.0,127.7 118.9,121.3 118.3,120.4 118.9,117.3 120.7,114.3 124.4,110.6 129.3,105.7 131.7,103.3" fill="#4646f6"/>
<polygon points="90.9,110.0 94.5,111.3 99.4,111.3 104.3,111.5 105.1,111.5 109.3,112.8 114.7,116.0 116.8,117.6 118.9,117.3 118.3,120.4 118.9,121.3 120.0,127.7 123.8,129.6 123.3,132.3 121.5,133.4 117.9,131.5 113.3,128.5 108.7,125.3 102.9,123.5 97.6,121.3 94.6,117.8 93.5,116.5 92.1,113.7" fill="#6e6ef4"/>
<polygon points="97.6,108.5 99.7,105.3 102.5,104.0 105.1,103.2 109.3,102.1 112.0,101.8 114.7,101.6 115.7,103.0 115.7,105.3 114.0,107.0 112.5,108.5 110.0,109.4 107.2,110.1 104.5,110.0 101.9,109.6 98.7,109.1" fill="#a6b4f2"/>
<polygon points="91.5,111.0 93.3,112.3 97.6,113.9 100.8,117.1 102.9,120.3 102.0,122.5 97.6,121.3 94.6,117.8 93.5,116.5 92.1,113.7" fill="#6e6ef4"/>
<polygon points="107.2,120.3 110.0,120.5 112.5,120.3 114.5,119.0 116.8,117.6 118.9,117.3 118.3,120.4 118.9,121.3 120.0,127.7 121.5,133.4 117.9,131.5 113.3,128.5 110.0,126.0 108.0,122.5" fill="#5a5af5"/>
<polygon points="94.6,117.8 97.6,121.3 102.9,123.5 108.7,125.3 113.3,128.5 117.9,131.5 121.5,133.4 123.3,132.3 123.8,129.6 125.7,130.4 132.2,134.4 138.7,139.3 139.5,139.0 137.5,142.0 136.0,146.0 137.0,149.0 137.8,152.3 137.0,157.0 135.5,159.0 132.0,162.0 130.6,162.5 129.8,159.0 128.4,155.0 127.0,151.5 124.3,147.9 120.6,144.7 116.9,142.4 113.3,139.6 109.6,136.9 109.5,134.8 105.5,131.5 101.5,128.0 97.5,124.2 94.8,120.5" fill="#4646f6"/>
<polygon points="104.2,144.2 106.0,141.9 107.8,138.7 109.6,136.9 113.3,139.6 116.9,142.4 120.6,144.7 124.3,147.9 127.0,151.5 128.4,155.0 129.8,159.0 130.6,162.5 128.5,164.5 126.0,165.4 124.8,165.5 122.0,164.0 119.3,162.0 116.0,158.8 112.4,155.2 109.5,151.7 106.9,148.3 105.0,146.0" fill="#9494f2"/>
<polygon points="88.4,109.5 90.9,110.0 92.1,113.7 93.5,116.5 94.6,117.8 94.8,120.5 97.5,124.2 101.5,128.0 105.5,131.5 109.5,134.8 109.6,136.9 107.8,138.7 103.1,133.8 97.8,129.0 93.5,123.1 90.3,116.7 88.7,112.0" fill="#6e6ef4"/>
<polygon points="77.4,133.4 79.7,129.4 83.1,124.7 86.6,120.1 88.4,116.6 88.9,112.0 88.7,112.0 90.3,116.7 93.5,123.1 97.8,129.0 103.1,133.8 107.8,138.7 106.0,141.9 104.2,144.2 102.8,143.5 99.0,142.0 96.0,141.3 93.6,140.9 90.5,141.0 88.5,141.7 85.5,143.0 82.0,138.6" fill="#9494f2"/>
<polygon points="31.6,122.2 35.0,120.2 37.1,118.7 42.6,116.0 44.6,115.1 49.2,113.2 54.3,108.7 57.5,110.5 61.1,111.9 64.8,110.5 68.4,108.7 70.4,107.3 72.5,105.5 74.2,103.5 75.0,101.0 75.5,99.0 78.0,95.2 81.8,92.0 82.3,92.0 81.7,93.0 80.5,99.1 80.5,104.0 82.0,106.5 83.5,110.0 84.8,114.0 85.6,115.9 82.0,119.5 77.1,122.0 69.8,123.8 64.8,124.7 60.2,124.2 55.6,122.8 52.9,121.5 49.2,119.6 46.5,119.2 43.3,119.6 41.9,121.5 41.2,120.8 37.1,121.2" fill="#a6b4f2"/>
<polygon points="60.2,124.2 64.8,124.7 69.8,123.8 77.1,122.0 82.0,119.5 85.6,115.9 84.8,114.0 83.5,110.0 82.0,106.5 80.5,104.0 80.5,99.1 81.7,93.0 82.3,92.0 83.5,95.5 84.8,99.1 86.0,103.0 87.2,106.4 88.4,109.5 88.7,112.0 88.9,112.0 88.4,116.6 86.6,120.1 83.1,124.7 79.7,129.4 77.4,133.4 73.9,129.9 71.6,127.6 66.9,125.9 63.0,125.5 60.0,125.5" fill="#7e7ef3"/>
<polygon points="42.6,124.2 41.9,121.5 44.0,119.4 46.5,119.2 49.2,119.6 52.9,121.5 55.6,122.8 60.2,124.2 60.0,125.5 57.5,128.0 55.0,127.8 51.0,128.5 49.5,127.0 48.0,125.5 44.6,123.3" fill="#7e7ef3"/>
<polygon points="51.0,128.5 55.0,127.8 57.5,128.0 60.0,125.5 63.0,125.5 66.9,125.9 71.6,127.6 73.9,129.9 77.4,133.4 82.0,138.6 85.5,143.0 83.1,144.9 80.0,146.2 77.0,147.3 72.9,148.1 69.5,146.8 66.5,145.5 63.0,144.3 61.8,144.8 60.5,141.4 57.7,137.3 53.6,132.5" fill="#a6d8e6"/>
<polygon points="42.6,124.2 44.6,123.3 48.0,125.5 49.5,127.0 51.0,128.5 53.6,132.5 57.7,137.3 60.5,141.4 61.8,144.8 59.1,145.5 55.0,147.6 50.8,149.0 46.7,148.3 42.6,145.5 38.5,142.8 34.4,140.0 34.4,135.2 35.0,130.4 38.5,127.0" fill="#0000f8"/>
<polygon points="27.5,124.2 31.6,122.2 37.1,121.2 41.2,120.8 42.6,124.2 38.5,127.0 35.0,130.4 34.4,135.2 34.4,140.0 31.6,142.1 27.6,143.2 26.2,141.3 26.1,136.6 25.4,132.5 26.1,128.4" fill="#0000f8"/>
<polygon points="108.6,23.6 113.0,25.5 116.9,28.9 120.7,34.0 119.5,37.5 118.6,41.2 120.5,42.5 122.6,43.5 125.5,41.8 129.4,40.1 131.7,38.9 133.4,37.8 134.6,39.5 135.1,41.9 136.9,44.7 138.7,44.7 141.0,42.4 143.8,41.9 144.7,43.7 143.8,47.4 144.2,51.1 143.3,53.8 140.6,56.6 137.8,57.8 134.5,59.3 132.6,61.0 131.2,62.8 130.5,65.4 129.6,68.3 127.8,70.8 126.8,72.8 126.2,75.5 126.5,80.5 128.4,85.5 129.3,87.5 131.7,91.1 133.5,94.5 135.4,97.2 136.6,100.9 138.5,104.0 140.2,107.0 141.5,110.6 140.9,115.5 141.5,120.4 142.2,124.5 142.8,127.0 142.5,131.5 141.0,135.5 139.5,139.0 137.5,142.0 136.0,146.0 137.0,149.0 137.8,152.3 137.0,157.0 135.5,159.0 132.0,162.0 128.5,164.5 126.0,165.4 124.8,165.5 122.0,164.0 119.3,162.0 116.0,158.8 112.4,155.2 109.5,151.7 106.9,148.3 105.0,146.0 102.8,144.2 99.0,142.0 96.0,141.3 93.6,140.9 90.5,141.0 88.5,141.7 85.5,143.0 83.1,144.9 80.0,146.2 77.0,147.3 72.9,148.1 69.5,146.8 66.5,145.5 63.0,144.3 61.8,144.8 59.1,145.5 55.0,147.6 50.8,149.0 46.7,148.3 42.6,145.5 38.5,142.8 34.4,140.0 31.6,142.1 27.6,143.2 26.2,141.3 26.1,136.6 25.4,132.5 26.1,128.4 27.5,124.2 31.6,122.2 35.0,120.2 37.1,118.7 42.6,116.0 44.6,115.1 49.2,113.2 54.3,108.7 57.5,110.5 61.1,111.9 64.8,110.5 68.4,108.7 70.4,107.3 72.5,105.5 74.2,103.5 75.0,101.0 75.5,99.0 78.0,95.2 81.8,92.0 86.6,89.6 89.1,85.2 91.4,83.7 93.7,80.7 97.5,79.1 99.8,76.9 101.2,74.5 101.8,72.0 102.9,69.0 102.3,65.5 102.9,61.4 101.6,57.5 98.5,55.0 96.4,53.5 93.2,51.0 91.1,46.7 92.1,43.5 89.0,41.5 86.4,39.1 87.5,35.5 89.5,32.7 93.5,30.5 97.8,28.9 101.0,27.5 104.2,25.1" fill="none" stroke="#6c6c6c" stroke-width="0.85"/>
<polyline points="104.9,39.3 105.3,44.0 105.5,47.8 107.0,50.5 108.0,51.7 110.9,55.3 113.9,59.0 114.6,60.5" fill="none" stroke="#e8907a" stroke-width="2.3" stroke-linecap="round" stroke-linejoin="round"/>
<polyline points="119.3,56.8 116.8,57.5 115.3,59.0 115.0,62.6 115.3,66.3 113.9,69.2 112.8,72.0 111.5,75.0 110.1,78.4 108.7,82.5 107.4,86.6 106.0,90.5 104.6,94.8" fill="none" stroke="#e4806a" stroke-width="2.5" stroke-linecap="round" stroke-linejoin="round"/>
<polyline points="104.6,94.8 102.4,98.4 99.8,100.8 96.5,102.3 93.7,102.3 91.5,100.5 90.7,99.3 88.5,96.0 87.6,94.7 84.6,93.2 82.3,92.0" fill="none" stroke="#e46a4c" stroke-width="2.5" stroke-linecap="round" stroke-linejoin="round"/>
<polyline points="82.3,92.0 81.7,93.0 80.5,99.1 80.5,104.0 82.0,106.5 83.5,110.0 84.8,114.0 85.6,115.9 82.0,119.5 77.1,122.0 69.8,123.8 64.8,124.7 60.2,124.2 55.6,122.8 52.9,121.5 49.2,119.6 46.5,119.2 44.0,119.4 41.9,121.5 42.6,124.2" fill="none" stroke="#c13a2a" stroke-width="3.4" stroke-linecap="round" stroke-linejoin="round"/>
<polyline points="88.4,109.5 88.7,112.0 90.3,116.7 93.5,123.1 97.8,129.0 103.1,133.8 107.8,138.7" fill="none" stroke="#f4b4a4" stroke-width="1.5" stroke-linecap="round" stroke-linejoin="round"/>
<polyline points="82.3,92.0 83.5,95.5 84.8,99.1 86.0,103.0 87.2,106.4 89.0,108.5 90.9,110.0" fill="none" stroke="#f8c6b8" stroke-width="1.5" stroke-linecap="round" stroke-linejoin="round"/>
<polyline points="90.9,110.0 94.5,111.3 99.4,111.3 104.3,111.5" fill="none" stroke="#fff4f4" stroke-width="1.5" stroke-linecap="round" stroke-linejoin="round"/>
<polyline points="90.9,110.0 92.1,113.7 93.5,116.5 94.6,117.8 97.6,121.3 102.9,123.5 108.7,125.3 113.3,128.5 117.9,131.5 121.5,133.4 123.3,132.3 123.8,129.6" fill="none" stroke="#cf4834" stroke-width="3" stroke-linecap="round" stroke-linejoin="round"/>
</g>
<g transform="translate(270,152.5)">
<polygon points="108.6,23.6 113.0,25.5 116.9,28.9 120.7,34.0 119.5,37.5 118.6,41.2 120.5,42.5 122.6,43.5 125.5,41.8 129.4,40.1 131.7,38.9 133.4,37.8 134.6,39.5 135.1,41.9 136.9,44.7 138.7,44.7 141.0,42.4 143.8,41.9 144.7,43.7 143.8,47.4 144.2,51.1 143.3,53.8 140.6,56.6 137.8,57.8 134.5,59.3 132.6,61.0 131.2,62.8 130.5,65.4 129.6,68.3 127.8,70.8 126.8,72.8 126.2,75.5 126.5,80.5 128.4,85.5 129.3,87.5 131.7,91.1 133.5,94.5 135.4,97.2 136.6,100.9 138.5,104.0 140.2,107.0 141.5,110.6 140.9,115.5 141.5,120.4 142.2,124.5 142.8,127.0 142.5,131.5 141.0,135.5 139.5,139.0 137.5,142.0 136.0,146.0 137.0,149.0 137.8,152.3 137.0,157.0 135.5,159.0 132.0,162.0 128.5,164.5 126.0,165.4 124.8,165.5 122.0,164.0 119.3,162.0 116.0,158.8 112.4,155.2 109.5,151.7 106.9,148.3 105.0,146.0 102.8,144.2 99.0,142.0 96.0,141.3 93.6,140.9 90.5,141.0 88.5,141.7 85.5,143.0 83.1,144.9 80.0,146.2 77.0,147.3 72.9,148.1 69.5,146.8 66.5,145.5 63.0,144.3 61.8,144.8 59.1,145.5 55.0,147.6 50.8,149.0 46.7,148.3 42.6,145.5 38.5,142.8 34.4,140.0 31.6,142.1 27.6,143.2 26.2,141.3 26.1,136.6 25.4,132.5 26.1,128.4 27.5,124.2 31.6,122.2 35.0,120.2 37.1,118.7 42.6,116.0 44.6,115.1 49.2,113.2 54.3,108.7 57.5,110.5 61.1,111.9 64.8,110.5 68.4,108.7 70.4,107.3 72.5,105.5 74.2,103.5 75.0,101.0 75.5,99.0 78.0,95.2 81.8,92.0 86.6,89.6 89.1,85.2 91.4,83.7 93.7,80.7 97.5,79.1 99.8,76.9 101.2,74.5 101.8,72.0 102.9,69.0 102.3,65.5 102.9,61.4 101.6,57.5 98.5,55.0 96.4,53.5 93.2,51.0 91.1,46.7 92.1,43.5 89.0,41.5 86.4,39.1 87.5,35.5 89.5,32.7 93.5,30.5 97.8,28.9 101.0,27.5 104.2,25.1" fill="#e28a77" stroke="none"/>
<polygon points="86.4,39.1 87.5,35.5 89.5,32.7 93.5,30.5 97.8,28.9 101.0,27.5 104.2,25.1 108.6,23.6 113.0,25.5 116.9,28.9 120.7,34.0 119.5,37.5 118.8,38.2 116.7,40.3 114.5,41.8 112.4,43.0 111.3,40.9 108.0,39.8 104.9,39.3 98.5,41.4 92.1,43.5 89.0,41.5" fill="#c4493a"/>
<polygon points="92.1,43.5 98.5,41.4 104.9,39.3 105.3,44.0 105.5,47.8 107.0,50.5 108.0,51.7 110.9,55.3 113.9,59.0 114.6,60.5 112.0,60.8 109.2,60.6 106.0,61.5 103.9,62.7 102.9,61.4 101.6,57.5 98.5,55.0 96.4,53.5 93.2,51.0 91.1,46.7" fill="#d05d4c"/>
<polygon points="104.9,39.3 108.0,39.8 111.3,40.9 112.4,43.0 114.5,41.8 116.7,40.3 118.8,38.2 119.5,37.5 118.6,41.2 120.5,42.5 122.6,43.5 120.4,47.4 117.0,49.6 115.9,51.9 115.9,55.8 115.3,59.0 114.6,60.5 113.9,59.0 110.9,55.3 108.0,51.7 107.0,50.5 105.5,47.8 105.3,44.0" fill="#d05d4c"/>
<polygon points="122.6,43.5 125.5,41.8 129.4,40.1 131.7,38.9 133.4,37.8 134.6,39.5 135.1,41.9 136.9,44.7 138.7,44.7 141.0,42.4 143.8,41.9 144.7,43.7 143.8,47.4 144.2,51.1 143.3,53.8 140.6,56.6 137.8,57.8 134.5,59.3 132.6,61.0 131.2,62.8 130.5,62.0 124.9,59.2 118.1,57.5 116.8,57.2 115.9,55.8 115.9,51.9 117.0,49.6 120.4,47.4" fill="#c4493a"/>
<polygon points="116.8,57.2 118.1,57.5 124.9,59.2 130.5,62.0 131.2,62.8 130.5,65.4 129.4,67.5 127.7,64.9 123.8,62.6 117.0,60.9 115.0,62.6 115.3,59.0" fill="#d97462"/>
<polygon points="103.9,62.7 106.0,61.5 109.2,60.6 112.0,60.8 114.6,60.5 115.0,62.6 115.3,66.3 113.9,69.2 112.8,72.0 111.5,75.0 110.1,78.4 108.7,82.5 107.4,86.6 106.0,90.5 104.6,94.8 102.4,98.4 99.8,100.8 96.5,102.3 93.7,102.3 91.5,100.5 90.7,99.3 88.5,96.0 87.6,94.7 84.6,93.2 82.3,92.0 81.8,92.0 86.6,89.6 89.1,85.2 91.4,83.7 93.7,80.7 97.5,79.1 99.8,76.9 101.2,74.5 101.8,72.0 102.9,69.0 102.3,65.5 102.9,61.4" fill="#d97462"/>
<polygon points="115.0,62.6 117.0,60.9 123.8,62.6 127.7,64.9 129.4,67.5 129.6,68.3 127.8,70.8 126.8,72.8 126.2,75.5 126.5,80.5 128.4,85.5 129.3,87.5 129.3,88.7 124.4,91.1 119.5,94.8 115.9,98.4 113.4,102.1 108.0,104.0 105.0,108.0 104.3,111.5 99.4,111.3 94.5,111.3 90.9,110.0 89.0,108.5 87.2,106.4 86.0,103.0 84.8,99.1 83.5,95.5 82.3,92.0 84.6,93.2 87.6,94.7 88.5,96.0 90.7,99.3 91.5,100.5 93.7,102.3 96.5,102.3 99.8,100.8 102.4,98.4 104.6,94.8 106.0,90.5 107.4,86.6 108.7,82.5 110.1,78.4 111.5,75.0 112.8,72.0 113.9,69.2 115.3,66.3" fill="#e28a77"/>
<polygon points="129.3,88.7 131.7,91.1 133.5,94.5 135.4,97.2 136.6,100.9 135.4,102.1 131.7,103.3 129.3,105.7 124.4,110.6 120.7,114.3 118.9,117.3 116.8,117.6 114.7,116.0 109.3,112.8 105.1,111.5 104.3,111.5 105.0,108.0 108.0,104.0 113.4,102.1 115.9,98.4 119.5,94.8 124.4,91.1" fill="#e28a77"/>
<polygon points="135.4,102.1 136.6,100.9 138.5,104.0 140.2,107.0 141.5,110.6 140.9,115.5 141.5,120.4 142.2,124.5 142.8,127.0 142.5,131.5 141.0,135.5 139.5,139.0 138.7,139.3 132.2,134.4 125.7,130.4 123.8,129.6 120.0,127.7 118.9,121.3 118.3,120.4 118.9,117.3 120.7,114.3 124.4,110.6 129.3,105.7 131.7,103.3" fill="#c4493a"/>
<polygon points="90.9,110.0 94.5,111.3 99.4,111.3 104.3,111.5 105.1,111.5 109.3,112.8 114.7,116.0 116.8,117.6 118.9,117.3 118.3,120.4 118.9,121.3 120.0,127.7 123.8,129.6 123.3,132.3 121.5,133.4 117.9,131.5 113.3,128.5 108.7,125.3 102.9,123.5 97.6,121.3 94.6,117.8 93.5,116.5 92.1,113.7" fill="#e28a77"/>
<polygon points="97.6,108.5 99.7,105.3 102.5,104.0 105.1,103.2 109.3,102.1 112.0,101.8 114.7,101.6 115.7,103.0 115.7,105.3 114.0,107.0 112.5,108.5 110.0,109.4 107.2,110.1 104.5,110.0 101.9,109.6 98.7,109.1" fill="#eaa28a"/>
<polygon points="91.5,111.0 93.3,112.3 97.6,113.9 100.8,117.1 102.9,120.3 102.0,122.5 97.6,121.3 94.6,117.8 93.5,116.5 92.1,113.7" fill="#c4493a"/>
<polygon points="107.2,120.3 110.0,120.5 112.5,120.3 114.5,119.0 116.8,117.6 118.9,117.3 118.3,120.4 118.9,121.3 120.0,127.7 121.5,133.4 117.9,131.5 113.3,128.5 110.0,126.0 108.0,122.5" fill="#c4493a"/>
<polygon points="94.6,117.8 97.6,121.3 102.9,123.5 108.7,125.3 113.3,128.5 117.9,131.5 121.5,133.4 123.3,132.3 123.8,129.6 125.7,130.4 132.2,134.4 138.7,139.3 139.5,139.0 137.5,142.0 136.0,146.0 137.0,149.0 137.8,152.3 137.0,157.0 135.5,159.0 132.0,162.0 130.6,162.5 129.8,159.0 128.4,155.0 127.0,151.5 124.3,147.9 120.6,144.7 116.9,142.4 113.3,139.6 109.6,136.9 109.5,134.8 105.5,131.5 101.5,128.0 97.5,124.2 94.8,120.5" fill="#d05d4c"/>
<polygon points="104.2,144.2 106.0,141.9 107.8,138.7 109.6,136.9 113.3,139.6 116.9,142.4 120.6,144.7 124.3,147.9 127.0,151.5 128.4,155.0 129.8,159.0 130.6,162.5 128.5,164.5 126.0,165.4 124.8,165.5 122.0,164.0 119.3,162.0 116.0,158.8 112.4,155.2 109.5,151.7 106.9,148.3 105.0,146.0" fill="#eaa28a"/>
<polygon points="88.4,109.5 90.9,110.0 92.1,113.7 93.5,116.5 94.6,117.8 94.8,120.5 97.5,124.2 101.5,128.0 105.5,131.5 109.5,134.8 109.6,136.9 107.8,138.7 103.1,133.8 97.8,129.0 93.5,123.1 90.3,116.7 88.7,112.0" fill="#f3c1a2"/>
<polygon points="77.4,133.4 79.7,129.4 83.1,124.7 86.6,120.1 88.4,116.6 88.9,112.0 88.7,112.0 90.3,116.7 93.5,123.1 97.8,129.0 103.1,133.8 107.8,138.7 106.0,141.9 104.2,144.2 102.8,143.5 99.0,142.0 96.0,141.3 93.6,140.9 90.5,141.0 88.5,141.7 85.5,143.0 82.0,138.6" fill="#eaa28a"/>
<polygon points="31.6,122.2 35.0,120.2 37.1,118.7 42.6,116.0 44.6,115.1 49.2,113.2 54.3,108.7 57.5,110.5 61.1,111.9 64.8,110.5 68.4,108.7 70.4,107.3 72.5,105.5 74.2,103.5 75.0,101.0 75.5,99.0 78.0,95.2 81.8,92.0 82.3,92.0 81.7,93.0 80.5,99.1 80.5,104.0 82.0,106.5 83.5,110.0 84.8,114.0 85.6,115.9 82.0,119.5 77.1,122.0 69.8,123.8 64.8,124.7 60.2,124.2 55.6,122.8 52.9,121.5 49.2,119.6 46.5,119.2 43.3,119.6 41.9,121.5 41.2,120.8 37.1,121.2" fill="#f9dbb4"/>
<polygon points="60.2,124.2 64.8,124.7 69.8,123.8 77.1,122.0 82.0,119.5 85.6,115.9 84.8,114.0 83.5,110.0 82.0,106.5 80.5,104.0 80.5,99.1 81.7,93.0 82.3,92.0 83.5,95.5 84.8,99.1 86.0,103.0 87.2,106.4 88.4,109.5 88.7,112.0 88.9,112.0 88.4,116.6 86.6,120.1 83.1,124.7 79.7,129.4 77.4,133.4 73.9,129.9 71.6,127.6 66.9,125.9 63.0,125.5 60.0,125.5" fill="#eaa28a"/>
<polygon points="42.6,124.2 41.9,121.5 44.0,119.4 46.5,119.2 49.2,119.6 52.9,121.5 55.6,122.8 60.2,124.2 60.0,125.5 57.5,128.0 55.0,127.8 51.0,128.5 49.5,127.0 48.0,125.5 44.6,123.3" fill="#eaa28a"/>
<polygon points="51.0,128.5 55.0,127.8 57.5,128.0 60.0,125.5 63.0,125.5 66.9,125.9 71.6,127.6 73.9,129.9 77.4,133.4 82.0,138.6 85.5,143.0 83.1,144.9 80.0,146.2 77.0,147.3 72.9,148.1 69.5,146.8 66.5,145.5 63.0,144.3 61.8,144.8 60.5,141.4 57.7,137.3 53.6,132.5" fill="#f9dbb4"/>
<polygon points="42.6,124.2 44.6,123.3 48.0,125.5 49.5,127.0 51.0,128.5 53.6,132.5 57.7,137.3 60.5,141.4 61.8,144.8 59.1,145.5 55.0,147.6 50.8,149.0 46.7,148.3 42.6,145.5 38.5,142.8 34.4,140.0 34.4,135.2 35.0,130.4 38.5,127.0" fill="#a92828"/>
<polygon points="27.5,124.2 31.6,122.2 37.1,121.2 41.2,120.8 42.6,124.2 38.5,127.0 35.0,130.4 34.4,135.2 34.4,140.0 31.6,142.1 27.6,143.2 26.2,141.3 26.1,136.6 25.4,132.5 26.1,128.4" fill="#a92828"/>
<polygon points="108.6,23.6 113.0,25.5 116.9,28.9 120.7,34.0 119.5,37.5 118.6,41.2 120.5,42.5 122.6,43.5 125.5,41.8 129.4,40.1 131.7,38.9 133.4,37.8 134.6,39.5 135.1,41.9 136.9,44.7 138.7,44.7 141.0,42.4 143.8,41.9 144.7,43.7 143.8,47.4 144.2,51.1 143.3,53.8 140.6,56.6 137.8,57.8 134.5,59.3 132.6,61.0 131.2,62.8 130.5,65.4 129.6,68.3 127.8,70.8 126.8,72.8 126.2,75.5 126.5,80.5 128.4,85.5 129.3,87.5 131.7,91.1 133.5,94.5 135.4,97.2 136.6,100.9 138.5,104.0 140.2,107.0 141.5,110.6 140.9,115.5 141.5,120.4 142.2,124.5 142.8,127.0 142.5,131.5 141.0,135.5 139.5,139.0 137.5,142.0 136.0,146.0 137.0,149.0 137.8,152.3 137.0,157.0 135.5,159.0 132.0,162.0 128.5,164.5 126.0,165.4 124.8,165.5 122.0,164.0 119.3,162.0 116.0,158.8 112.4,155.2 109.5,151.7 106.9,148.3 105.0,146.0 102.8,144.2 99.0,142.0 96.0,141.3 93.6,140.9 90.5,141.0 88.5,141.7 85.5,143.0 83.1,144.9 80.0,146.2 77.0,147.3 72.9,148.1 69.5,146.8 66.5,145.5 63.0,144.3 61.8,144.8 59.1,145.5 55.0,147.6 50.8,149.0 46.7,148.3 42.6,145.5 38.5,142.8 34.4,140.0 31.6,142.1 27.6,143.2 26.2,141.3 26.1,136.6 25.4,132.5 26.1,128.4 27.5,124.2 31.6,122.2 35.0,120.2 37.1,118.7 42.6,116.0 44.6,115.1 49.2,113.2 54.3,108.7 57.5,110.5 61.1,111.9 64.8,110.5 68.4,108.7 70.4,107.3 72.5,105.5 74.2,103.5 75.0,101.0 75.5,99.0 78.0,95.2 81.8,92.0 86.6,89.6 89.1,85.2 91.4,83.7 93.7,80.7 97.5,79.1 99.8,76.9 101.2,74.5 101.8,72.0 102.9,69.0 102.3,65.5 102.9,61.4 101.6,57.5 98.5,55.0 96.4,53.5 93.2,51.0 91.1,46.7 92.1,43.5 89.0,41.5 86.4,39.1 87.5,35.5 89.5,32.7 93.5,30.5 97.8,28.9 101.0,27.5 104.2,25.1" fill="none" stroke="#6c6c6c" stroke-width="0.85"/>
<polyline points="104.9,39.3 105.3,44.0 105.5,47.8 107.0,50.5 108.0,51.7 110.9,55.3 113.9,59.0 114.6,60.5" fill="none" stroke="#6a70f4" stroke-width="2.2" stroke-linecap="round" stroke-linejoin="round"/>
<polyline points="119.3,56.8 116.8,57.5 115.3,59.0 115.0,62.6 115.3,66.3 113.9,69.2 112.8,72.0 111.5,75.0 110.1,78.4 108.7,82.5 107.4,86.6 106.0,90.5 104.6,94.8" fill="none" stroke="#5a60f6" stroke-width="2.4" stroke-linecap="round" stroke-linejoin="round"/>
<polyline points="104.6,94.8 102.4,98.4 99.8,100.8 96.5,102.3 93.7,102.3 91.5,100.5 90.7,99.3 88.5,96.0 87.6,94.7 84.6,93.2 82.3,92.0" fill="none" stroke="#5050fa" stroke-width="2.6" stroke-linecap="round" stroke-linejoin="round"/>
<polyline points="82.3,92.0 81.7,93.0 80.5,99.1 80.5,104.0 82.0,106.5 83.5,110.0 84.8,114.0 85.6,115.9 82.0,119.5 77.1,122.0 69.8,123.8 64.8,124.7 60.2,124.2 55.6,122.8 52.9,121.5 49.2,119.6 46.5,119.2 44.0,119.4 41.9,121.5 42.6,124.2" fill="none" stroke="#2424fc" stroke-width="3.6" stroke-linecap="round" stroke-linejoin="round"/>
<polyline points="88.4,109.5 88.7,112.0 90.3,116.7 93.5,123.1 97.8,129.0 103.1,133.8 107.8,138.7" fill="none" stroke="#6a6af6" stroke-width="2.2" stroke-linecap="round" stroke-linejoin="round"/>
<polyline points="82.3,92.0 83.5,95.5 84.8,99.1 86.0,103.0 87.2,106.4 89.0,108.5 90.9,110.0" fill="none" stroke="#a8c4e0" stroke-width="1.5" stroke-linecap="round" stroke-linejoin="round"/>
<polyline points="90.9,110.0 94.5,111.3 99.4,111.3 104.3,111.5" fill="none" stroke="#a8c0dc" stroke-width="1.5" stroke-linecap="round" stroke-linejoin="round"/>
<polyline points="90.9,110.0 92.1,113.7 93.5,116.5 94.6,117.8 97.6,121.3 102.9,123.5 108.7,125.3 113.3,128.5 117.9,131.5 121.5,133.4 123.3,132.3 123.8,129.6" fill="none" stroke="#5c5cfa" stroke-width="2.8" stroke-linecap="round" stroke-linejoin="round"/>
</g>
</g>
<line x1="22" y1="19.55" x2="149.1" y2="19.55" stroke="#1a1a1a" stroke-width="1.1"/>
<line x1="22.6" y1="170.95" x2="148.5" y2="170.95" stroke="#1a1a1a" stroke-width="1.8"/>
<line x1="22.6" y1="19" x2="22.6" y2="322.6" stroke="#1a1a1a" stroke-width="1.25"/>
<line x1="148.5" y1="19" x2="148.5" y2="322.6" stroke="#1a1a1a" stroke-width="1.2"/>
<line x1="28.6" y1="16.3" x2="28.6" y2="19.6" stroke="#1a1a1a" stroke-width="0.9"/>
<text x="28.6" y="14.1" class="ax" text-anchor="middle">74°40'E</text>
<line x1="72.8" y1="16.3" x2="72.8" y2="19.6" stroke="#1a1a1a" stroke-width="0.9"/>
<text x="72.8" y="14.1" class="ax" text-anchor="middle">75°0'E</text>
<line x1="117.1" y1="16.3" x2="117.1" y2="19.6" stroke="#1a1a1a" stroke-width="0.9"/>
<text x="117.1" y="14.1" class="ax" text-anchor="middle">75°20'E</text>
<line x1="19.0" y1="47.8" x2="22.6" y2="47.8" stroke="#1a1a1a" stroke-width="1.1"/>
<text transform="translate(16.8,47.8) rotate(-90)" class="ax" text-anchor="middle">34°6'N</text>
<line x1="19.0" y1="93.5" x2="22.6" y2="93.5" stroke="#1a1a1a" stroke-width="1.1"/>
<text transform="translate(16.8,93.5) rotate(-90)" class="ax" text-anchor="middle">33°49'N</text>
<line x1="19.0" y1="139.3" x2="22.6" y2="139.3" stroke="#1a1a1a" stroke-width="1.1"/>
<text transform="translate(16.8,139.3) rotate(-90)" class="ax" text-anchor="middle">33°32'N</text>
<text x="42.4" y="38.0" class="nn" text-anchor="middle">N</text>
<polygon points="42.4,41.5 34.1,68.7 42.4,59.5" fill="#000"/>
<polygon points="42.4,41.5 50.6,68.7 42.4,59.5" fill="#fff" stroke="#000" stroke-width="0.8" stroke-linejoin="miter"/>
<text x="131.9" y="32.4" class="pl">(a)</text>
<text x="153.2" y="26.8" class="tt" style="font-size:9.05px">Percent Change</text>
<text x="153.2" y="37.0" class="tt" style="font-size:9.05px">Runoff (mm)</text>
<text x="152.8" y="50.0" class="hd" style="font-size:7.8px">Streams</text>
<text x="212.7" y="50.0" class="hd" style="font-size:7.5px">Planes</text>
<line x1="152.9" y1="58.95" x2="170.1" y2="58.95" stroke="#ffffff" stroke-width="1" stroke-linecap="round"/>
<text transform="translate(173.8,62.35) scale(1.06,1)" class="lv">+2.1</text>
<rect x="212.2" y="54.80" width="16.7" height="8.3" fill="#a6d8e6" stroke="#7a7a7a" stroke-width="0.8"/>
<text transform="translate(232.9,62.35) scale(1.06,1)" class="lv">-11 - -9.3</text>
<line x1="152.9" y1="70.89" x2="170.1" y2="70.89" stroke="#f8d6d2" stroke-width="1" stroke-linecap="round"/>
<text transform="translate(173.8,74.29) scale(1.06,1)" class="lv">+2.2 - +3.4</text>
<rect x="212.2" y="66.74" width="16.7" height="8.3" fill="#a6b4f2" stroke="#7a7a7a" stroke-width="0.8"/>
<text transform="translate(232.9,74.29) scale(1.06,1)" class="lv">-4.2 - -3.1</text>
<line x1="153.0" y1="82.83" x2="170.0" y2="82.83" stroke="#f4b8ae" stroke-width="1.2" stroke-linecap="round"/>
<text transform="translate(173.8,86.23) scale(1.06,1)" class="lv">+3.5 - +6.0</text>
<rect x="212.2" y="78.68" width="16.7" height="8.3" fill="#9494f2" stroke="#7a7a7a" stroke-width="0.8"/>
<text transform="translate(232.9,86.23) scale(1.06,1)" class="lv">-0.67 - 0.0</text>
<line x1="153.1" y1="94.77" x2="169.9" y2="94.77" stroke="#f0a08e" stroke-width="1.4" stroke-linecap="round"/>
<text transform="translate(173.8,98.17) scale(1.06,1)" class="lv">+6.1 - +8.6</text>
<rect x="212.2" y="90.62" width="16.7" height="8.3" fill="#7e7ef3" stroke="#7a7a7a" stroke-width="0.8"/>
<text transform="translate(232.9,98.17) scale(1.06,1)" class="lv">+0.99 - +2.5</text>
<line x1="153.2" y1="106.71" x2="169.8" y2="106.71" stroke="#ea8674" stroke-width="1.7" stroke-linecap="round"/>
<text transform="translate(173.8,110.11) scale(1.06,1)" class="lv">+8.7 - +12</text>
<rect x="212.2" y="102.56" width="16.7" height="8.3" fill="#6e6ef4" stroke="#7a7a7a" stroke-width="0.8"/>
<text transform="translate(232.9,110.11) scale(1.06,1)" class="lv">+3.2 - +4.3</text>
<line x1="153.4" y1="118.65" x2="169.6" y2="118.65" stroke="#e06a58" stroke-width="2" stroke-linecap="round"/>
<text transform="translate(173.8,122.05) scale(1.06,1)" class="lv">+13 - +14</text>
<rect x="212.2" y="114.50" width="16.7" height="8.3" fill="#5a5af5" stroke="#7a7a7a" stroke-width="0.8"/>
<text transform="translate(232.9,122.05) scale(1.06,1)" class="lv">+7.8 - +8.1</text>
<line x1="153.6" y1="130.59" x2="169.4" y2="130.59" stroke="#d24c3a" stroke-width="2.4" stroke-linecap="round"/>
<text transform="translate(173.8,133.99) scale(1.06,1)" class="lv">+15 - +17</text>
<rect x="212.2" y="126.44" width="16.7" height="8.3" fill="#4646f6" stroke="#7a7a7a" stroke-width="0.8"/>
<text transform="translate(232.9,133.99) scale(1.06,1)" class="lv">+11 - +13</text>
<line x1="153.8" y1="142.53" x2="169.2" y2="142.53" stroke="#c23226" stroke-width="2.8" stroke-linecap="round"/>
<text transform="translate(173.8,145.93) scale(1.06,1)" class="lv">+18 - +20</text>
<rect x="212.2" y="138.38" width="16.7" height="8.3" fill="#2e2ef7" stroke="#7a7a7a" stroke-width="0.8"/>
<text transform="translate(232.9,145.93) scale(1.06,1)" class="lv">+14 - +16</text>
<line x1="154.0" y1="154.47" x2="169.0" y2="154.47" stroke="#a81616" stroke-width="3.2" stroke-linecap="round"/>
<text transform="translate(173.8,157.87) scale(1.06,1)" class="lv">+21 - +22</text>
<rect x="212.2" y="150.32" width="16.7" height="8.3" fill="#0000f8" stroke="#7a7a7a" stroke-width="0.8"/>
<text transform="translate(232.9,157.87) scale(1.06,1)" class="lv">+17 - +19</text>
<line x1="22" y1="321.7" x2="149.1" y2="321.7" stroke="#1a1a1a" stroke-width="1.8"/>
<line x1="19.0" y1="199.8" x2="22.6" y2="199.8" stroke="#1a1a1a" stroke-width="1.1"/>
<text transform="translate(16.8,199.8) rotate(-90)" class="ax" text-anchor="middle">34°6'N</text>
<line x1="19.0" y1="245.6" x2="22.6" y2="245.6" stroke="#1a1a1a" stroke-width="1.1"/>
<text transform="translate(16.8,245.6) rotate(-90)" class="ax" text-anchor="middle">33°49'N</text>
<line x1="19.0" y1="291.3" x2="22.6" y2="291.3" stroke="#1a1a1a" stroke-width="1.1"/>
<text transform="translate(16.8,291.3) rotate(-90)" class="ax" text-anchor="middle">33°32'N</text>
<text x="43.1" y="189.9" class="nn" text-anchor="middle">N</text>
<polygon points="43.1,193.4 34.8,220.6 43.1,211.4" fill="#000"/>
<polygon points="43.1,193.4 51.3,220.6 43.1,211.4" fill="#fff" stroke="#000" stroke-width="0.8" stroke-linejoin="miter"/>
<text x="132.3" y="185.3" class="pl">(b)</text>
<text x="154.3" y="171.3" class="tt" style="font-size:9.3px">Percent Change</text>
<text x="154.3" y="182.2" class="tt" style="font-size:9.3px">Sediment (kg/ha)</text>
<text x="154.4" y="196.9" class="hd" style="font-size:8px">Streams</text>
<text x="213.6" y="196.9" class="hd" style="font-size:7.9px">Planes</text>
<line x1="153.8" y1="205.10" x2="173.0" y2="205.10" stroke="#c8e6e8" stroke-width="1" stroke-linecap="round"/>
<text transform="translate(176.2,207.90) scale(1,1)" class="lv">+5.8</text>
<rect x="213.6" y="201.10" width="18.2" height="8" fill="#fffad6" stroke="#7a7a7a" stroke-width="0.8"/>
<text transform="translate(234.7,207.90) scale(1,1)" class="lv">-11 - -6.4</text>
<line x1="153.8" y1="216.40" x2="173.0" y2="216.40" stroke="#a6c0f0" stroke-width="1" stroke-linecap="round"/>
<text transform="translate(176.2,219.20) scale(1,1)" class="lv">+5.9 - +14</text>
<rect x="213.6" y="212.40" width="18.2" height="8" fill="#f9dbb4" stroke="#7a7a7a" stroke-width="0.8"/>
<text transform="translate(234.7,219.20) scale(1,1)" class="lv">-6.3 - +0.30</text>
<line x1="153.9" y1="227.70" x2="172.9" y2="227.70" stroke="#8896f4" stroke-width="1.2" stroke-linecap="round"/>
<text transform="translate(176.2,230.50) scale(1,1)" class="lv">+15 - +21</text>
<rect x="213.6" y="223.70" width="18.2" height="8" fill="#f3c1a2" stroke="#7a7a7a" stroke-width="0.8"/>
<text transform="translate(234.7,230.50) scale(1,1)" class="lv">+0.31 - +2.4</text>
<line x1="154.1" y1="239.00" x2="172.8" y2="239.00" stroke="#7676f4" stroke-width="1.5" stroke-linecap="round"/>
<text transform="translate(176.2,241.80) scale(1,1)" class="lv">+22 - +26</text>
<rect x="213.6" y="235.00" width="18.2" height="8" fill="#eaa28a" stroke="#7a7a7a" stroke-width="0.8"/>
<text transform="translate(234.7,241.80) scale(1,1)" class="lv">+2.5 - +6.0</text>
<line x1="154.2" y1="250.30" x2="172.6" y2="250.30" stroke="#6666f6" stroke-width="1.8" stroke-linecap="round"/>
<text transform="translate(176.2,253.10) scale(1,1)" class="lv">+27 - +28</text>
<rect x="213.6" y="246.30" width="18.2" height="8" fill="#e28a77" stroke="#7a7a7a" stroke-width="0.8"/>
<text transform="translate(234.7,253.10) scale(1,1)" class="lv">+6.1 - +16</text>
<line x1="154.4" y1="261.60" x2="172.4" y2="261.60" stroke="#5252f8" stroke-width="2.1" stroke-linecap="round"/>
<text transform="translate(176.2,264.40) scale(1,1)" class="lv">+29 - +32</text>
<rect x="213.6" y="257.60" width="18.2" height="8" fill="#d97462" stroke="#7a7a7a" stroke-width="0.8"/>
<text transform="translate(234.7,264.40) scale(1,1)" class="lv">+17 - +27</text>
<line x1="154.6" y1="272.90" x2="172.2" y2="272.90" stroke="#3a3afa" stroke-width="2.5" stroke-linecap="round"/>
<text transform="translate(176.2,275.70) scale(1,1)" class="lv">+33 - +42</text>
<rect x="213.6" y="268.90" width="18.2" height="8" fill="#d05d4c" stroke="#7a7a7a" stroke-width="0.8"/>
<text transform="translate(234.7,275.70) scale(1,1)" class="lv">+28 - +35</text>
<line x1="154.8" y1="284.20" x2="172.1" y2="284.20" stroke="#1e1efc" stroke-width="2.9" stroke-linecap="round"/>
<text transform="translate(176.2,287.00) scale(1,1)" class="lv">+43 - +46</text>
<rect x="213.6" y="280.20" width="18.2" height="8" fill="#c4493a" stroke="#7a7a7a" stroke-width="0.8"/>
<text transform="translate(234.7,287.00) scale(1,1)" class="lv">+36 - +48</text>
<line x1="155.0" y1="295.50" x2="171.8" y2="295.50" stroke="#0000ff" stroke-width="3.4" stroke-linecap="round"/>
<text transform="translate(176.2,298.30) scale(1,1)" class="lv">+47 - +52</text>
<rect x="213.6" y="291.50" width="18.2" height="8" fill="#a92828" stroke="#7a7a7a" stroke-width="0.8"/>
<text transform="translate(234.7,298.30) scale(1,1)" class="lv">+49 - +74</text>
<line x1="291.25" y1="19.55" x2="418.1" y2="19.55" stroke="#1a1a1a" stroke-width="1.1"/>
<line x1="291.85" y1="170.95" x2="417.5" y2="170.95" stroke="#1a1a1a" stroke-width="1.8"/>
<line x1="291.85" y1="19" x2="291.85" y2="322.6" stroke="#1a1a1a" stroke-width="1.25"/>
<line x1="417.5" y1="19" x2="417.5" y2="322.6" stroke="#1a1a1a" stroke-width="1.2"/>
<line x1="297.9" y1="16.3" x2="297.9" y2="19.6" stroke="#1a1a1a" stroke-width="0.9"/>
<text x="297.9" y="14.1" class="ax" text-anchor="middle">74°40'E</text>
<line x1="342.1" y1="16.3" x2="342.1" y2="19.6" stroke="#1a1a1a" stroke-width="0.9"/>
<text x="342.1" y="14.1" class="ax" text-anchor="middle">75°0'E</text>
<line x1="386.4" y1="16.3" x2="386.4" y2="19.6" stroke="#1a1a1a" stroke-width="0.9"/>
<text x="386.4" y="14.1" class="ax" text-anchor="middle">75°20'E</text>
<line x1="288.2" y1="47.8" x2="291.9" y2="47.8" stroke="#1a1a1a" stroke-width="1.1"/>
<text transform="translate(286.1,47.8) rotate(-90)" class="ax" text-anchor="middle">34°6'N</text>
<line x1="288.2" y1="93.5" x2="291.9" y2="93.5" stroke="#1a1a1a" stroke-width="1.1"/>
<text transform="translate(286.1,93.5) rotate(-90)" class="ax" text-anchor="middle">33°49'N</text>
<line x1="288.2" y1="139.3" x2="291.9" y2="139.3" stroke="#1a1a1a" stroke-width="1.1"/>
<text transform="translate(286.1,139.3) rotate(-90)" class="ax" text-anchor="middle">33°32'N</text>
<text x="311.7" y="38.0" class="nn" text-anchor="middle">N</text>
<polygon points="311.7,41.5 303.4,68.7 311.7,59.5" fill="#000"/>
<polygon points="311.7,41.5 319.9,68.7 311.7,59.5" fill="#fff" stroke="#000" stroke-width="0.8" stroke-linejoin="miter"/>
<text x="400.9" y="32.4" class="pl">(c)</text>
<text x="423.5" y="26.8" class="tt" style="font-size:9.1px">Percent Change</text>
<text x="423.5" y="37.3" class="tt" style="font-size:9.1px">Runoff (mm)</text>
<text x="423.0" y="50.4" class="hd" style="font-size:7.7px">Streams</text>
<text x="484.5" y="50.4" class="hd" style="font-size:7.5px">Planes</text>
<line x1="422.7" y1="59.60" x2="440.2" y2="59.60" stroke="#ffffff" stroke-width="1" stroke-linecap="round"/>
<text transform="translate(443.8,62.70) scale(1.06,1)" class="lv">-3.6</text>
<rect x="483.9" y="55.65" width="17.2" height="7.9" fill="#a6d8e6" stroke="#7a7a7a" stroke-width="0.8"/>
<text transform="translate(504.2,62.70) scale(1.06,1)" class="lv">-3.6 - -3.3</text>
<line x1="422.7" y1="71.50" x2="440.2" y2="71.50" stroke="#f8d6d2" stroke-width="1" stroke-linecap="round"/>
<text transform="translate(443.8,74.60) scale(1.06,1)" class="lv">-3.5 - -0.86</text>
<rect x="483.9" y="67.55" width="17.2" height="7.9" fill="#a6b4f2" stroke="#7a7a7a" stroke-width="0.8"/>
<text transform="translate(504.2,74.60) scale(1.06,1)" class="lv">-3.2 - -1.9</text>
<line x1="422.8" y1="83.40" x2="440.1" y2="83.40" stroke="#f4b8ae" stroke-width="1.2" stroke-linecap="round"/>
<text transform="translate(443.8,86.50) scale(1.06,1)" class="lv">-0.85 - +1.1</text>
<rect x="483.9" y="79.45" width="17.2" height="7.9" fill="#9494f2" stroke="#7a7a7a" stroke-width="0.8"/>
<text transform="translate(504.2,86.50) scale(1.06,1)" class="lv">-1.8 - -1</text>
<line x1="422.9" y1="95.30" x2="440.0" y2="95.30" stroke="#f0a08e" stroke-width="1.4" stroke-linecap="round"/>
<text transform="translate(443.8,98.40) scale(1.06,1)" class="lv">+1.2 - +1.5</text>
<rect x="483.9" y="91.35" width="17.2" height="7.9" fill="#7e7ef3" stroke="#7a7a7a" stroke-width="0.8"/>
<text transform="translate(504.2,98.40) scale(1.06,1)" class="lv">-0.90 - +0.03</text>
<line x1="423.1" y1="107.20" x2="439.8" y2="107.20" stroke="#ea8674" stroke-width="1.7" stroke-linecap="round"/>
<text transform="translate(443.8,110.30) scale(1.06,1)" class="lv">+1.6 - +1.8</text>
<rect x="483.9" y="103.25" width="17.2" height="7.9" fill="#6e6ef4" stroke="#7a7a7a" stroke-width="0.8"/>
<text transform="translate(504.2,110.30) scale(1.06,1)" class="lv">+0.03 - +0.44</text>
<line x1="423.2" y1="119.10" x2="439.7" y2="119.10" stroke="#e06a58" stroke-width="2" stroke-linecap="round"/>
<text transform="translate(443.8,122.20) scale(1.06,1)" class="lv">+1.8 - +1.9</text>
<rect x="483.9" y="115.15" width="17.2" height="7.9" fill="#5a5af5" stroke="#7a7a7a" stroke-width="0.8"/>
<text transform="translate(504.2,122.20) scale(1.06,1)" class="lv">+0.45 - +1.1</text>
<line x1="423.4" y1="131.00" x2="439.5" y2="131.00" stroke="#d24c3a" stroke-width="2.4" stroke-linecap="round"/>
<text transform="translate(443.8,134.10) scale(1.06,1)" class="lv">+2.0 - +2.1</text>
<rect x="483.9" y="127.05" width="17.2" height="7.9" fill="#4646f6" stroke="#7a7a7a" stroke-width="0.8"/>
<text transform="translate(504.2,134.10) scale(1.06,1)" class="lv">+1.2 - +2.8</text>
<line x1="423.6" y1="142.90" x2="439.3" y2="142.90" stroke="#c23226" stroke-width="2.8" stroke-linecap="round"/>
<text transform="translate(443.8,146.00) scale(1.06,1)" class="lv">+2.2 - +3.2</text>
<rect x="483.9" y="138.95" width="17.2" height="7.9" fill="#2e2ef7" stroke="#7a7a7a" stroke-width="0.8"/>
<text transform="translate(504.2,146.00) scale(1.06,1)" class="lv">+2.9 - +5.1</text>
<line x1="423.8" y1="154.80" x2="439.1" y2="154.80" stroke="#a81616" stroke-width="3.2" stroke-linecap="round"/>
<text transform="translate(443.8,157.90) scale(1.06,1)" class="lv">+3.3 - +12</text>
<rect x="483.9" y="150.85" width="17.2" height="7.9" fill="#0000f8" stroke="#7a7a7a" stroke-width="0.8"/>
<text transform="translate(504.2,157.90) scale(1.06,1)" class="lv">+5.2 - +18</text>
<line x1="291.25" y1="321.7" x2="418.1" y2="321.7" stroke="#1a1a1a" stroke-width="1.8"/>
<line x1="288.2" y1="199.8" x2="291.9" y2="199.8" stroke="#1a1a1a" stroke-width="1.1"/>
<text transform="translate(286.1,199.8) rotate(-90)" class="ax" text-anchor="middle">34°6'N</text>
<line x1="288.2" y1="245.6" x2="291.9" y2="245.6" stroke="#1a1a1a" stroke-width="1.1"/>
<text transform="translate(286.1,245.6) rotate(-90)" class="ax" text-anchor="middle">33°49'N</text>
<line x1="288.2" y1="291.3" x2="291.9" y2="291.3" stroke="#1a1a1a" stroke-width="1.1"/>
<text transform="translate(286.1,291.3) rotate(-90)" class="ax" text-anchor="middle">33°32'N</text>
<text x="312.4" y="189.9" class="nn" text-anchor="middle">N</text>
<polygon points="312.4,193.4 304.1,220.6 312.4,211.4" fill="#000"/>
<polygon points="312.4,193.4 320.6,220.6 312.4,211.4" fill="#fff" stroke="#000" stroke-width="0.8" stroke-linejoin="miter"/>
<text x="401.3" y="185.3" class="pl">(d)</text>
<text x="423.5" y="170.5" class="tt" style="font-size:9.15px">Percent Change</text>
<text x="423.5" y="180.9" class="tt" style="font-size:9.15px">Sediment (kg/ha)</text>
<text x="423.5" y="194.2" class="hd" style="font-size:7.75px">Streams</text>
<text x="484.1" y="194.2" class="hd" style="font-size:7.45px">Planes</text>
<line x1="423.8" y1="202.70" x2="440.8" y2="202.70" stroke="#c8e6e8" stroke-width="1" stroke-linecap="round"/>
<text transform="translate(444.2,205.50) scale(1.05,1)" class="lv">-5.3</text>
<rect x="483.6" y="198.60" width="17.5" height="8.2" fill="#fffad6" stroke="#7a7a7a" stroke-width="0.8"/>
<text transform="translate(504.2,205.50) scale(1.05,1)" class="lv">-14</text>
<line x1="423.8" y1="214.67" x2="440.8" y2="214.67" stroke="#a6c0f0" stroke-width="1" stroke-linecap="round"/>
<text transform="translate(444.2,217.47) scale(1.05,1)" class="lv">-5.2 - -1.4</text>
<rect x="483.6" y="210.57" width="17.5" height="8.2" fill="#f9dbb4" stroke="#7a7a7a" stroke-width="0.8"/>
<text transform="translate(504.2,217.47) scale(1.05,1)" class="lv">-13 - -4.4</text>
<line x1="423.9" y1="226.64" x2="440.7" y2="226.64" stroke="#8896f4" stroke-width="1.2" stroke-linecap="round"/>
<text transform="translate(444.2,229.44) scale(1.05,1)" class="lv">-1.3 - +3.2</text>
<rect x="483.6" y="222.54" width="17.5" height="8.2" fill="#f3c1a2" stroke="#7a7a7a" stroke-width="0.8"/>
<text transform="translate(504.2,229.44) scale(1.05,1)" class="lv">-4.3 - -2.8</text>
<line x1="424.1" y1="238.61" x2="440.6" y2="238.61" stroke="#7676f4" stroke-width="1.5" stroke-linecap="round"/>
<text transform="translate(444.2,241.41) scale(1.05,1)" class="lv">+3.3 - +3.4</text>
<rect x="483.6" y="234.51" width="17.5" height="8.2" fill="#eaa28a" stroke="#7a7a7a" stroke-width="0.8"/>
<text transform="translate(504.2,241.41) scale(1.05,1)" class="lv">-2.7 - -1.7</text>
<line x1="424.2" y1="250.58" x2="440.4" y2="250.58" stroke="#6666f6" stroke-width="1.8" stroke-linecap="round"/>
<text transform="translate(444.2,253.38) scale(1.05,1)" class="lv">+3.5 - +3.7</text>
<rect x="483.6" y="246.48" width="17.5" height="8.2" fill="#e28a77" stroke="#7a7a7a" stroke-width="0.8"/>
<text transform="translate(504.2,253.38) scale(1.05,1)" class="lv">-1.6 - +0.84</text>
<line x1="424.4" y1="262.55" x2="440.2" y2="262.55" stroke="#5252f8" stroke-width="2.1" stroke-linecap="round"/>
<text transform="translate(444.2,265.35) scale(1.05,1)" class="lv">+3.8 - +3.9</text>
<rect x="483.6" y="258.45" width="17.5" height="8.2" fill="#d97462" stroke="#7a7a7a" stroke-width="0.8"/>
<text transform="translate(504.2,265.35) scale(1.05,1)" class="lv">+0.85 - +1.6</text>
<line x1="424.6" y1="274.52" x2="440.1" y2="274.52" stroke="#3a3afa" stroke-width="2.5" stroke-linecap="round"/>
<text transform="translate(444.2,277.32) scale(1.05,1)" class="lv">+4.0 - +4.4</text>
<rect x="483.6" y="270.42" width="17.5" height="8.2" fill="#d05d4c" stroke="#7a7a7a" stroke-width="0.8"/>
<text transform="translate(504.2,277.32) scale(1.05,1)" class="lv">+1.7 - +4.3</text>
<line x1="424.8" y1="286.49" x2="439.9" y2="286.49" stroke="#1e1efc" stroke-width="2.9" stroke-linecap="round"/>
<text transform="translate(444.2,289.29) scale(1.05,1)" class="lv">+4.5 - +4.7</text>
<rect x="483.6" y="282.39" width="17.5" height="8.2" fill="#c4493a" stroke="#7a7a7a" stroke-width="0.8"/>
<text transform="translate(504.2,289.29) scale(1.05,1)" class="lv">+4.4 - +6.2</text>
<line x1="425.0" y1="298.46" x2="439.6" y2="298.46" stroke="#0000ff" stroke-width="3.4" stroke-linecap="round"/>
<text transform="translate(444.2,301.26) scale(1.05,1)" class="lv">+4.8 - +14</text>
<rect x="483.6" y="294.36" width="17.5" height="8.2" fill="#a92828" stroke="#7a7a7a" stroke-width="0.8"/>
<text transform="translate(504.2,301.26) scale(1.05,1)" class="lv">+6.3 - +18</text>
<text transform="translate(155.0,312.8) scale(1.12,1)" class="sb" text-anchor="middle">0</text>
<text transform="translate(184.0,312.8) scale(1.12,1)" class="sb" text-anchor="middle">20</text>
<text transform="translate(212.8,312.8) scale(1.12,1)" class="sb" text-anchor="middle">40</text>
<rect x="155.0" y="316.6" width="58.3" height="3.6" fill="#fff" stroke="#000" stroke-width="0.8"/>
<rect x="155.0" y="316.6" width="29.3" height="3.6" fill="#000"/>
<text transform="translate(214.8,319.6) scale(1.1,1)" class="sb" style="font-size:7.2px">km</text>
<text transform="translate(424.3,313.5) scale(1.12,1)" class="sb" text-anchor="middle">0</text>
<text transform="translate(453.3,313.5) scale(1.12,1)" class="sb" text-anchor="middle">20</text>
<text transform="translate(482.1,313.5) scale(1.12,1)" class="sb" text-anchor="middle">40</text>
<rect x="424.3" y="317.3" width="58.3" height="3.6" fill="#fff" stroke="#000" stroke-width="0.8"/>
<rect x="424.3" y="317.3" width="29.3" height="3.6" fill="#000"/>
<text transform="translate(484.1,320.3) scale(1.1,1)" class="sb" style="font-size:7.5px">km</text>
</svg></body></html>
